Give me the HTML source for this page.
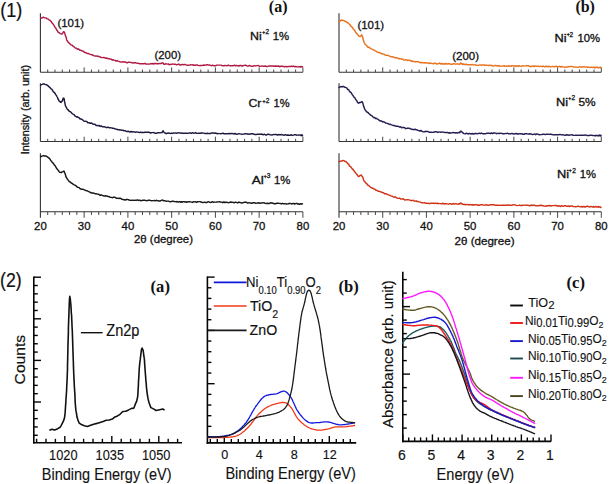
<!DOCTYPE html>
<html><head><meta charset="utf-8"><style>
html,body{margin:0;padding:0;background:#fff;width:609px;height:484px;overflow:hidden}
svg{display:block}
</style></head><body>
<svg width="609" height="484" viewBox="0 0 609 484">
<rect width="609" height="484" fill="#fff"/>
<line x1="40.40" y1="13.30" x2="40.40" y2="72.20" stroke="#333" stroke-width="1.10"/>
<line x1="40.40" y1="72.20" x2="302.90" y2="72.20" stroke="#333" stroke-width="1.10"/>
<line x1="47.69" y1="72.20" x2="47.69" y2="69.50" stroke="#333" stroke-width="0.90"/>
<line x1="54.98" y1="72.20" x2="54.98" y2="69.50" stroke="#333" stroke-width="0.90"/>
<line x1="62.27" y1="72.20" x2="62.27" y2="69.50" stroke="#333" stroke-width="0.90"/>
<line x1="69.57" y1="72.20" x2="69.57" y2="69.50" stroke="#333" stroke-width="0.90"/>
<line x1="76.86" y1="72.20" x2="76.86" y2="69.50" stroke="#333" stroke-width="0.90"/>
<line x1="84.15" y1="72.20" x2="84.15" y2="67.40" stroke="#333" stroke-width="0.90"/>
<line x1="91.44" y1="72.20" x2="91.44" y2="69.50" stroke="#333" stroke-width="0.90"/>
<line x1="98.73" y1="72.20" x2="98.73" y2="69.50" stroke="#333" stroke-width="0.90"/>
<line x1="106.03" y1="72.20" x2="106.03" y2="69.50" stroke="#333" stroke-width="0.90"/>
<line x1="113.32" y1="72.20" x2="113.32" y2="69.50" stroke="#333" stroke-width="0.90"/>
<line x1="120.61" y1="72.20" x2="120.61" y2="69.50" stroke="#333" stroke-width="0.90"/>
<line x1="127.90" y1="72.20" x2="127.90" y2="67.40" stroke="#333" stroke-width="0.90"/>
<line x1="135.19" y1="72.20" x2="135.19" y2="69.50" stroke="#333" stroke-width="0.90"/>
<line x1="142.48" y1="72.20" x2="142.48" y2="69.50" stroke="#333" stroke-width="0.90"/>
<line x1="149.78" y1="72.20" x2="149.78" y2="69.50" stroke="#333" stroke-width="0.90"/>
<line x1="157.07" y1="72.20" x2="157.07" y2="69.50" stroke="#333" stroke-width="0.90"/>
<line x1="164.36" y1="72.20" x2="164.36" y2="69.50" stroke="#333" stroke-width="0.90"/>
<line x1="171.65" y1="72.20" x2="171.65" y2="67.40" stroke="#333" stroke-width="0.90"/>
<line x1="178.94" y1="72.20" x2="178.94" y2="69.50" stroke="#333" stroke-width="0.90"/>
<line x1="186.23" y1="72.20" x2="186.23" y2="69.50" stroke="#333" stroke-width="0.90"/>
<line x1="193.53" y1="72.20" x2="193.53" y2="69.50" stroke="#333" stroke-width="0.90"/>
<line x1="200.82" y1="72.20" x2="200.82" y2="69.50" stroke="#333" stroke-width="0.90"/>
<line x1="208.11" y1="72.20" x2="208.11" y2="69.50" stroke="#333" stroke-width="0.90"/>
<line x1="215.40" y1="72.20" x2="215.40" y2="67.40" stroke="#333" stroke-width="0.90"/>
<line x1="222.69" y1="72.20" x2="222.69" y2="69.50" stroke="#333" stroke-width="0.90"/>
<line x1="229.98" y1="72.20" x2="229.98" y2="69.50" stroke="#333" stroke-width="0.90"/>
<line x1="237.28" y1="72.20" x2="237.28" y2="69.50" stroke="#333" stroke-width="0.90"/>
<line x1="244.57" y1="72.20" x2="244.57" y2="69.50" stroke="#333" stroke-width="0.90"/>
<line x1="251.86" y1="72.20" x2="251.86" y2="69.50" stroke="#333" stroke-width="0.90"/>
<line x1="259.15" y1="72.20" x2="259.15" y2="67.40" stroke="#333" stroke-width="0.90"/>
<line x1="266.44" y1="72.20" x2="266.44" y2="69.50" stroke="#333" stroke-width="0.90"/>
<line x1="273.73" y1="72.20" x2="273.73" y2="69.50" stroke="#333" stroke-width="0.90"/>
<line x1="281.02" y1="72.20" x2="281.02" y2="69.50" stroke="#333" stroke-width="0.90"/>
<line x1="288.32" y1="72.20" x2="288.32" y2="69.50" stroke="#333" stroke-width="0.90"/>
<line x1="295.61" y1="72.20" x2="295.61" y2="69.50" stroke="#333" stroke-width="0.90"/>
<line x1="302.90" y1="72.20" x2="302.90" y2="67.40" stroke="#333" stroke-width="0.90"/>
<line x1="40.40" y1="83.20" x2="40.40" y2="141.50" stroke="#333" stroke-width="1.10"/>
<line x1="40.40" y1="141.50" x2="302.90" y2="141.50" stroke="#333" stroke-width="1.10"/>
<line x1="47.69" y1="141.50" x2="47.69" y2="138.80" stroke="#333" stroke-width="0.90"/>
<line x1="54.98" y1="141.50" x2="54.98" y2="138.80" stroke="#333" stroke-width="0.90"/>
<line x1="62.27" y1="141.50" x2="62.27" y2="138.80" stroke="#333" stroke-width="0.90"/>
<line x1="69.57" y1="141.50" x2="69.57" y2="138.80" stroke="#333" stroke-width="0.90"/>
<line x1="76.86" y1="141.50" x2="76.86" y2="138.80" stroke="#333" stroke-width="0.90"/>
<line x1="84.15" y1="141.50" x2="84.15" y2="136.70" stroke="#333" stroke-width="0.90"/>
<line x1="91.44" y1="141.50" x2="91.44" y2="138.80" stroke="#333" stroke-width="0.90"/>
<line x1="98.73" y1="141.50" x2="98.73" y2="138.80" stroke="#333" stroke-width="0.90"/>
<line x1="106.03" y1="141.50" x2="106.03" y2="138.80" stroke="#333" stroke-width="0.90"/>
<line x1="113.32" y1="141.50" x2="113.32" y2="138.80" stroke="#333" stroke-width="0.90"/>
<line x1="120.61" y1="141.50" x2="120.61" y2="138.80" stroke="#333" stroke-width="0.90"/>
<line x1="127.90" y1="141.50" x2="127.90" y2="136.70" stroke="#333" stroke-width="0.90"/>
<line x1="135.19" y1="141.50" x2="135.19" y2="138.80" stroke="#333" stroke-width="0.90"/>
<line x1="142.48" y1="141.50" x2="142.48" y2="138.80" stroke="#333" stroke-width="0.90"/>
<line x1="149.78" y1="141.50" x2="149.78" y2="138.80" stroke="#333" stroke-width="0.90"/>
<line x1="157.07" y1="141.50" x2="157.07" y2="138.80" stroke="#333" stroke-width="0.90"/>
<line x1="164.36" y1="141.50" x2="164.36" y2="138.80" stroke="#333" stroke-width="0.90"/>
<line x1="171.65" y1="141.50" x2="171.65" y2="136.70" stroke="#333" stroke-width="0.90"/>
<line x1="178.94" y1="141.50" x2="178.94" y2="138.80" stroke="#333" stroke-width="0.90"/>
<line x1="186.23" y1="141.50" x2="186.23" y2="138.80" stroke="#333" stroke-width="0.90"/>
<line x1="193.53" y1="141.50" x2="193.53" y2="138.80" stroke="#333" stroke-width="0.90"/>
<line x1="200.82" y1="141.50" x2="200.82" y2="138.80" stroke="#333" stroke-width="0.90"/>
<line x1="208.11" y1="141.50" x2="208.11" y2="138.80" stroke="#333" stroke-width="0.90"/>
<line x1="215.40" y1="141.50" x2="215.40" y2="136.70" stroke="#333" stroke-width="0.90"/>
<line x1="222.69" y1="141.50" x2="222.69" y2="138.80" stroke="#333" stroke-width="0.90"/>
<line x1="229.98" y1="141.50" x2="229.98" y2="138.80" stroke="#333" stroke-width="0.90"/>
<line x1="237.28" y1="141.50" x2="237.28" y2="138.80" stroke="#333" stroke-width="0.90"/>
<line x1="244.57" y1="141.50" x2="244.57" y2="138.80" stroke="#333" stroke-width="0.90"/>
<line x1="251.86" y1="141.50" x2="251.86" y2="138.80" stroke="#333" stroke-width="0.90"/>
<line x1="259.15" y1="141.50" x2="259.15" y2="136.70" stroke="#333" stroke-width="0.90"/>
<line x1="266.44" y1="141.50" x2="266.44" y2="138.80" stroke="#333" stroke-width="0.90"/>
<line x1="273.73" y1="141.50" x2="273.73" y2="138.80" stroke="#333" stroke-width="0.90"/>
<line x1="281.02" y1="141.50" x2="281.02" y2="138.80" stroke="#333" stroke-width="0.90"/>
<line x1="288.32" y1="141.50" x2="288.32" y2="138.80" stroke="#333" stroke-width="0.90"/>
<line x1="295.61" y1="141.50" x2="295.61" y2="138.80" stroke="#333" stroke-width="0.90"/>
<line x1="302.90" y1="141.50" x2="302.90" y2="136.70" stroke="#333" stroke-width="0.90"/>
<line x1="40.40" y1="153.20" x2="40.40" y2="217.80" stroke="#333" stroke-width="1.10"/>
<line x1="40.40" y1="211.80" x2="302.90" y2="211.80" stroke="#333" stroke-width="1.10"/>
<line x1="47.69" y1="211.80" x2="47.69" y2="215.00" stroke="#333" stroke-width="0.90"/>
<line x1="54.98" y1="211.80" x2="54.98" y2="215.00" stroke="#333" stroke-width="0.90"/>
<line x1="62.27" y1="211.80" x2="62.27" y2="215.00" stroke="#333" stroke-width="0.90"/>
<line x1="69.57" y1="211.80" x2="69.57" y2="215.00" stroke="#333" stroke-width="0.90"/>
<line x1="76.86" y1="211.80" x2="76.86" y2="215.00" stroke="#333" stroke-width="0.90"/>
<line x1="84.15" y1="211.80" x2="84.15" y2="217.80" stroke="#333" stroke-width="0.90"/>
<line x1="91.44" y1="211.80" x2="91.44" y2="215.00" stroke="#333" stroke-width="0.90"/>
<line x1="98.73" y1="211.80" x2="98.73" y2="215.00" stroke="#333" stroke-width="0.90"/>
<line x1="106.03" y1="211.80" x2="106.03" y2="215.00" stroke="#333" stroke-width="0.90"/>
<line x1="113.32" y1="211.80" x2="113.32" y2="215.00" stroke="#333" stroke-width="0.90"/>
<line x1="120.61" y1="211.80" x2="120.61" y2="215.00" stroke="#333" stroke-width="0.90"/>
<line x1="127.90" y1="211.80" x2="127.90" y2="217.80" stroke="#333" stroke-width="0.90"/>
<line x1="135.19" y1="211.80" x2="135.19" y2="215.00" stroke="#333" stroke-width="0.90"/>
<line x1="142.48" y1="211.80" x2="142.48" y2="215.00" stroke="#333" stroke-width="0.90"/>
<line x1="149.78" y1="211.80" x2="149.78" y2="215.00" stroke="#333" stroke-width="0.90"/>
<line x1="157.07" y1="211.80" x2="157.07" y2="215.00" stroke="#333" stroke-width="0.90"/>
<line x1="164.36" y1="211.80" x2="164.36" y2="215.00" stroke="#333" stroke-width="0.90"/>
<line x1="171.65" y1="211.80" x2="171.65" y2="217.80" stroke="#333" stroke-width="0.90"/>
<line x1="178.94" y1="211.80" x2="178.94" y2="215.00" stroke="#333" stroke-width="0.90"/>
<line x1="186.23" y1="211.80" x2="186.23" y2="215.00" stroke="#333" stroke-width="0.90"/>
<line x1="193.53" y1="211.80" x2="193.53" y2="215.00" stroke="#333" stroke-width="0.90"/>
<line x1="200.82" y1="211.80" x2="200.82" y2="215.00" stroke="#333" stroke-width="0.90"/>
<line x1="208.11" y1="211.80" x2="208.11" y2="215.00" stroke="#333" stroke-width="0.90"/>
<line x1="215.40" y1="211.80" x2="215.40" y2="217.80" stroke="#333" stroke-width="0.90"/>
<line x1="222.69" y1="211.80" x2="222.69" y2="215.00" stroke="#333" stroke-width="0.90"/>
<line x1="229.98" y1="211.80" x2="229.98" y2="215.00" stroke="#333" stroke-width="0.90"/>
<line x1="237.28" y1="211.80" x2="237.28" y2="215.00" stroke="#333" stroke-width="0.90"/>
<line x1="244.57" y1="211.80" x2="244.57" y2="215.00" stroke="#333" stroke-width="0.90"/>
<line x1="251.86" y1="211.80" x2="251.86" y2="215.00" stroke="#333" stroke-width="0.90"/>
<line x1="259.15" y1="211.80" x2="259.15" y2="217.80" stroke="#333" stroke-width="0.90"/>
<line x1="266.44" y1="211.80" x2="266.44" y2="215.00" stroke="#333" stroke-width="0.90"/>
<line x1="273.73" y1="211.80" x2="273.73" y2="215.00" stroke="#333" stroke-width="0.90"/>
<line x1="281.02" y1="211.80" x2="281.02" y2="215.00" stroke="#333" stroke-width="0.90"/>
<line x1="288.32" y1="211.80" x2="288.32" y2="215.00" stroke="#333" stroke-width="0.90"/>
<line x1="295.61" y1="211.80" x2="295.61" y2="215.00" stroke="#333" stroke-width="0.90"/>
<line x1="302.90" y1="211.80" x2="302.90" y2="217.80" stroke="#333" stroke-width="0.90"/>
<line x1="339.00" y1="13.30" x2="339.00" y2="72.20" stroke="#333" stroke-width="1.10"/>
<line x1="339.00" y1="72.20" x2="601.30" y2="72.20" stroke="#333" stroke-width="1.10"/>
<line x1="346.29" y1="72.20" x2="346.29" y2="69.50" stroke="#333" stroke-width="0.90"/>
<line x1="353.57" y1="72.20" x2="353.57" y2="69.50" stroke="#333" stroke-width="0.90"/>
<line x1="360.86" y1="72.20" x2="360.86" y2="69.50" stroke="#333" stroke-width="0.90"/>
<line x1="368.14" y1="72.20" x2="368.14" y2="69.50" stroke="#333" stroke-width="0.90"/>
<line x1="375.43" y1="72.20" x2="375.43" y2="69.50" stroke="#333" stroke-width="0.90"/>
<line x1="382.72" y1="72.20" x2="382.72" y2="67.40" stroke="#333" stroke-width="0.90"/>
<line x1="390.00" y1="72.20" x2="390.00" y2="69.50" stroke="#333" stroke-width="0.90"/>
<line x1="397.29" y1="72.20" x2="397.29" y2="69.50" stroke="#333" stroke-width="0.90"/>
<line x1="404.57" y1="72.20" x2="404.57" y2="69.50" stroke="#333" stroke-width="0.90"/>
<line x1="411.86" y1="72.20" x2="411.86" y2="69.50" stroke="#333" stroke-width="0.90"/>
<line x1="419.15" y1="72.20" x2="419.15" y2="69.50" stroke="#333" stroke-width="0.90"/>
<line x1="426.43" y1="72.20" x2="426.43" y2="67.40" stroke="#333" stroke-width="0.90"/>
<line x1="433.72" y1="72.20" x2="433.72" y2="69.50" stroke="#333" stroke-width="0.90"/>
<line x1="441.01" y1="72.20" x2="441.01" y2="69.50" stroke="#333" stroke-width="0.90"/>
<line x1="448.29" y1="72.20" x2="448.29" y2="69.50" stroke="#333" stroke-width="0.90"/>
<line x1="455.58" y1="72.20" x2="455.58" y2="69.50" stroke="#333" stroke-width="0.90"/>
<line x1="462.86" y1="72.20" x2="462.86" y2="69.50" stroke="#333" stroke-width="0.90"/>
<line x1="470.15" y1="72.20" x2="470.15" y2="67.40" stroke="#333" stroke-width="0.90"/>
<line x1="477.44" y1="72.20" x2="477.44" y2="69.50" stroke="#333" stroke-width="0.90"/>
<line x1="484.72" y1="72.20" x2="484.72" y2="69.50" stroke="#333" stroke-width="0.90"/>
<line x1="492.01" y1="72.20" x2="492.01" y2="69.50" stroke="#333" stroke-width="0.90"/>
<line x1="499.29" y1="72.20" x2="499.29" y2="69.50" stroke="#333" stroke-width="0.90"/>
<line x1="506.58" y1="72.20" x2="506.58" y2="69.50" stroke="#333" stroke-width="0.90"/>
<line x1="513.87" y1="72.20" x2="513.87" y2="67.40" stroke="#333" stroke-width="0.90"/>
<line x1="521.15" y1="72.20" x2="521.15" y2="69.50" stroke="#333" stroke-width="0.90"/>
<line x1="528.44" y1="72.20" x2="528.44" y2="69.50" stroke="#333" stroke-width="0.90"/>
<line x1="535.72" y1="72.20" x2="535.72" y2="69.50" stroke="#333" stroke-width="0.90"/>
<line x1="543.01" y1="72.20" x2="543.01" y2="69.50" stroke="#333" stroke-width="0.90"/>
<line x1="550.30" y1="72.20" x2="550.30" y2="69.50" stroke="#333" stroke-width="0.90"/>
<line x1="557.58" y1="72.20" x2="557.58" y2="67.40" stroke="#333" stroke-width="0.90"/>
<line x1="564.87" y1="72.20" x2="564.87" y2="69.50" stroke="#333" stroke-width="0.90"/>
<line x1="572.16" y1="72.20" x2="572.16" y2="69.50" stroke="#333" stroke-width="0.90"/>
<line x1="579.44" y1="72.20" x2="579.44" y2="69.50" stroke="#333" stroke-width="0.90"/>
<line x1="586.73" y1="72.20" x2="586.73" y2="69.50" stroke="#333" stroke-width="0.90"/>
<line x1="594.01" y1="72.20" x2="594.01" y2="69.50" stroke="#333" stroke-width="0.90"/>
<line x1="601.30" y1="72.20" x2="601.30" y2="67.40" stroke="#333" stroke-width="0.90"/>
<line x1="339.00" y1="83.20" x2="339.00" y2="141.50" stroke="#333" stroke-width="1.10"/>
<line x1="339.00" y1="141.50" x2="601.30" y2="141.50" stroke="#333" stroke-width="1.10"/>
<line x1="346.29" y1="141.50" x2="346.29" y2="138.80" stroke="#333" stroke-width="0.90"/>
<line x1="353.57" y1="141.50" x2="353.57" y2="138.80" stroke="#333" stroke-width="0.90"/>
<line x1="360.86" y1="141.50" x2="360.86" y2="138.80" stroke="#333" stroke-width="0.90"/>
<line x1="368.14" y1="141.50" x2="368.14" y2="138.80" stroke="#333" stroke-width="0.90"/>
<line x1="375.43" y1="141.50" x2="375.43" y2="138.80" stroke="#333" stroke-width="0.90"/>
<line x1="382.72" y1="141.50" x2="382.72" y2="136.70" stroke="#333" stroke-width="0.90"/>
<line x1="390.00" y1="141.50" x2="390.00" y2="138.80" stroke="#333" stroke-width="0.90"/>
<line x1="397.29" y1="141.50" x2="397.29" y2="138.80" stroke="#333" stroke-width="0.90"/>
<line x1="404.57" y1="141.50" x2="404.57" y2="138.80" stroke="#333" stroke-width="0.90"/>
<line x1="411.86" y1="141.50" x2="411.86" y2="138.80" stroke="#333" stroke-width="0.90"/>
<line x1="419.15" y1="141.50" x2="419.15" y2="138.80" stroke="#333" stroke-width="0.90"/>
<line x1="426.43" y1="141.50" x2="426.43" y2="136.70" stroke="#333" stroke-width="0.90"/>
<line x1="433.72" y1="141.50" x2="433.72" y2="138.80" stroke="#333" stroke-width="0.90"/>
<line x1="441.01" y1="141.50" x2="441.01" y2="138.80" stroke="#333" stroke-width="0.90"/>
<line x1="448.29" y1="141.50" x2="448.29" y2="138.80" stroke="#333" stroke-width="0.90"/>
<line x1="455.58" y1="141.50" x2="455.58" y2="138.80" stroke="#333" stroke-width="0.90"/>
<line x1="462.86" y1="141.50" x2="462.86" y2="138.80" stroke="#333" stroke-width="0.90"/>
<line x1="470.15" y1="141.50" x2="470.15" y2="136.70" stroke="#333" stroke-width="0.90"/>
<line x1="477.44" y1="141.50" x2="477.44" y2="138.80" stroke="#333" stroke-width="0.90"/>
<line x1="484.72" y1="141.50" x2="484.72" y2="138.80" stroke="#333" stroke-width="0.90"/>
<line x1="492.01" y1="141.50" x2="492.01" y2="138.80" stroke="#333" stroke-width="0.90"/>
<line x1="499.29" y1="141.50" x2="499.29" y2="138.80" stroke="#333" stroke-width="0.90"/>
<line x1="506.58" y1="141.50" x2="506.58" y2="138.80" stroke="#333" stroke-width="0.90"/>
<line x1="513.87" y1="141.50" x2="513.87" y2="136.70" stroke="#333" stroke-width="0.90"/>
<line x1="521.15" y1="141.50" x2="521.15" y2="138.80" stroke="#333" stroke-width="0.90"/>
<line x1="528.44" y1="141.50" x2="528.44" y2="138.80" stroke="#333" stroke-width="0.90"/>
<line x1="535.72" y1="141.50" x2="535.72" y2="138.80" stroke="#333" stroke-width="0.90"/>
<line x1="543.01" y1="141.50" x2="543.01" y2="138.80" stroke="#333" stroke-width="0.90"/>
<line x1="550.30" y1="141.50" x2="550.30" y2="138.80" stroke="#333" stroke-width="0.90"/>
<line x1="557.58" y1="141.50" x2="557.58" y2="136.70" stroke="#333" stroke-width="0.90"/>
<line x1="564.87" y1="141.50" x2="564.87" y2="138.80" stroke="#333" stroke-width="0.90"/>
<line x1="572.16" y1="141.50" x2="572.16" y2="138.80" stroke="#333" stroke-width="0.90"/>
<line x1="579.44" y1="141.50" x2="579.44" y2="138.80" stroke="#333" stroke-width="0.90"/>
<line x1="586.73" y1="141.50" x2="586.73" y2="138.80" stroke="#333" stroke-width="0.90"/>
<line x1="594.01" y1="141.50" x2="594.01" y2="138.80" stroke="#333" stroke-width="0.90"/>
<line x1="601.30" y1="141.50" x2="601.30" y2="136.70" stroke="#333" stroke-width="0.90"/>
<line x1="339.00" y1="153.20" x2="339.00" y2="217.80" stroke="#333" stroke-width="1.10"/>
<line x1="339.00" y1="211.80" x2="601.30" y2="211.80" stroke="#333" stroke-width="1.10"/>
<line x1="346.29" y1="211.80" x2="346.29" y2="215.00" stroke="#333" stroke-width="0.90"/>
<line x1="353.57" y1="211.80" x2="353.57" y2="215.00" stroke="#333" stroke-width="0.90"/>
<line x1="360.86" y1="211.80" x2="360.86" y2="215.00" stroke="#333" stroke-width="0.90"/>
<line x1="368.14" y1="211.80" x2="368.14" y2="215.00" stroke="#333" stroke-width="0.90"/>
<line x1="375.43" y1="211.80" x2="375.43" y2="215.00" stroke="#333" stroke-width="0.90"/>
<line x1="382.72" y1="211.80" x2="382.72" y2="217.80" stroke="#333" stroke-width="0.90"/>
<line x1="390.00" y1="211.80" x2="390.00" y2="215.00" stroke="#333" stroke-width="0.90"/>
<line x1="397.29" y1="211.80" x2="397.29" y2="215.00" stroke="#333" stroke-width="0.90"/>
<line x1="404.57" y1="211.80" x2="404.57" y2="215.00" stroke="#333" stroke-width="0.90"/>
<line x1="411.86" y1="211.80" x2="411.86" y2="215.00" stroke="#333" stroke-width="0.90"/>
<line x1="419.15" y1="211.80" x2="419.15" y2="215.00" stroke="#333" stroke-width="0.90"/>
<line x1="426.43" y1="211.80" x2="426.43" y2="217.80" stroke="#333" stroke-width="0.90"/>
<line x1="433.72" y1="211.80" x2="433.72" y2="215.00" stroke="#333" stroke-width="0.90"/>
<line x1="441.01" y1="211.80" x2="441.01" y2="215.00" stroke="#333" stroke-width="0.90"/>
<line x1="448.29" y1="211.80" x2="448.29" y2="215.00" stroke="#333" stroke-width="0.90"/>
<line x1="455.58" y1="211.80" x2="455.58" y2="215.00" stroke="#333" stroke-width="0.90"/>
<line x1="462.86" y1="211.80" x2="462.86" y2="215.00" stroke="#333" stroke-width="0.90"/>
<line x1="470.15" y1="211.80" x2="470.15" y2="217.80" stroke="#333" stroke-width="0.90"/>
<line x1="477.44" y1="211.80" x2="477.44" y2="215.00" stroke="#333" stroke-width="0.90"/>
<line x1="484.72" y1="211.80" x2="484.72" y2="215.00" stroke="#333" stroke-width="0.90"/>
<line x1="492.01" y1="211.80" x2="492.01" y2="215.00" stroke="#333" stroke-width="0.90"/>
<line x1="499.29" y1="211.80" x2="499.29" y2="215.00" stroke="#333" stroke-width="0.90"/>
<line x1="506.58" y1="211.80" x2="506.58" y2="215.00" stroke="#333" stroke-width="0.90"/>
<line x1="513.87" y1="211.80" x2="513.87" y2="217.80" stroke="#333" stroke-width="0.90"/>
<line x1="521.15" y1="211.80" x2="521.15" y2="215.00" stroke="#333" stroke-width="0.90"/>
<line x1="528.44" y1="211.80" x2="528.44" y2="215.00" stroke="#333" stroke-width="0.90"/>
<line x1="535.72" y1="211.80" x2="535.72" y2="215.00" stroke="#333" stroke-width="0.90"/>
<line x1="543.01" y1="211.80" x2="543.01" y2="215.00" stroke="#333" stroke-width="0.90"/>
<line x1="550.30" y1="211.80" x2="550.30" y2="215.00" stroke="#333" stroke-width="0.90"/>
<line x1="557.58" y1="211.80" x2="557.58" y2="217.80" stroke="#333" stroke-width="0.90"/>
<line x1="564.87" y1="211.80" x2="564.87" y2="215.00" stroke="#333" stroke-width="0.90"/>
<line x1="572.16" y1="211.80" x2="572.16" y2="215.00" stroke="#333" stroke-width="0.90"/>
<line x1="579.44" y1="211.80" x2="579.44" y2="215.00" stroke="#333" stroke-width="0.90"/>
<line x1="586.73" y1="211.80" x2="586.73" y2="215.00" stroke="#333" stroke-width="0.90"/>
<line x1="594.01" y1="211.80" x2="594.01" y2="215.00" stroke="#333" stroke-width="0.90"/>
<line x1="601.30" y1="211.80" x2="601.30" y2="217.80" stroke="#333" stroke-width="0.90"/>
<text x="40.4" y="229.6" font-size="11.40" text-anchor="middle" fill="#111" font-family='"Liberation Sans", sans-serif' font-weight="normal" stroke="#111" stroke-width="0.30" >20</text>
<text x="339.0" y="229.6" font-size="11.40" text-anchor="middle" fill="#111" font-family='"Liberation Sans", sans-serif' font-weight="normal" stroke="#111" stroke-width="0.30" >20</text>
<text x="84.2" y="229.6" font-size="11.40" text-anchor="middle" fill="#111" font-family='"Liberation Sans", sans-serif' font-weight="normal" stroke="#111" stroke-width="0.30" >30</text>
<text x="382.7" y="229.6" font-size="11.40" text-anchor="middle" fill="#111" font-family='"Liberation Sans", sans-serif' font-weight="normal" stroke="#111" stroke-width="0.30" >30</text>
<text x="127.9" y="229.6" font-size="11.40" text-anchor="middle" fill="#111" font-family='"Liberation Sans", sans-serif' font-weight="normal" stroke="#111" stroke-width="0.30" >40</text>
<text x="426.4" y="229.6" font-size="11.40" text-anchor="middle" fill="#111" font-family='"Liberation Sans", sans-serif' font-weight="normal" stroke="#111" stroke-width="0.30" >40</text>
<text x="171.7" y="229.6" font-size="11.40" text-anchor="middle" fill="#111" font-family='"Liberation Sans", sans-serif' font-weight="normal" stroke="#111" stroke-width="0.30" >50</text>
<text x="470.1" y="229.6" font-size="11.40" text-anchor="middle" fill="#111" font-family='"Liberation Sans", sans-serif' font-weight="normal" stroke="#111" stroke-width="0.30" >50</text>
<text x="215.4" y="229.6" font-size="11.40" text-anchor="middle" fill="#111" font-family='"Liberation Sans", sans-serif' font-weight="normal" stroke="#111" stroke-width="0.30" >60</text>
<text x="513.9" y="229.6" font-size="11.40" text-anchor="middle" fill="#111" font-family='"Liberation Sans", sans-serif' font-weight="normal" stroke="#111" stroke-width="0.30" >60</text>
<text x="259.1" y="229.6" font-size="11.40" text-anchor="middle" fill="#111" font-family='"Liberation Sans", sans-serif' font-weight="normal" stroke="#111" stroke-width="0.30" >70</text>
<text x="557.6" y="229.6" font-size="11.40" text-anchor="middle" fill="#111" font-family='"Liberation Sans", sans-serif' font-weight="normal" stroke="#111" stroke-width="0.30" >70</text>
<text x="302.9" y="229.6" font-size="11.40" text-anchor="middle" fill="#111" font-family='"Liberation Sans", sans-serif' font-weight="normal" stroke="#111" stroke-width="0.30" >80</text>
<text x="601.3" y="229.6" font-size="11.40" text-anchor="middle" fill="#111" font-family='"Liberation Sans", sans-serif' font-weight="normal" stroke="#111" stroke-width="0.30" >80</text>
<text x="134.0" y="243.3" font-size="11.00" text-anchor="start" fill="#111" font-family='"Liberation Sans", sans-serif' font-weight="normal" textLength="59.0" lengthAdjust="spacingAndGlyphs" stroke="#111" stroke-width="0.30" >2θ (degree)</text>
<text x="454.5" y="245.0" font-size="11.00" text-anchor="start" fill="#111" font-family='"Liberation Sans", sans-serif' font-weight="normal" textLength="60.0" lengthAdjust="spacingAndGlyphs" stroke="#111" stroke-width="0.30" >2θ (degree)</text>
<text transform="translate(29.2,154.3) rotate(-90)" font-size="11.3" font-family='"Liberation Sans", sans-serif' fill="#111" stroke="#111" stroke-width="0.3" textLength="89.4" lengthAdjust="spacingAndGlyphs">Intensity (arb. unit)</text>
<path d="M40.4,18.3 L40.9,17.9 L42.1,18.0 L43.3,17.2 L44.2,17.7 L45.2,17.9 L46.2,18.0 L47.2,18.9 L48.2,19.1 L49.2,20.1 L50.2,20.5 L51.1,21.4 L51.8,22.5 L52.5,23.7 L53.2,24.0 L53.8,25.0 L54.5,26.3 L55.1,27.5 L55.7,28.0 L56.2,28.8 L56.8,30.3 L57.3,30.4 L57.9,32.0 L58.4,32.2 L59.0,32.7 L60.3,33.6 L61.6,34.1 L62.4,33.8 L63.2,32.0 L63.9,31.8 L64.4,32.4 L64.8,33.3 L65.2,35.0 L65.6,35.9 L66.0,36.9 L66.3,38.2 L66.6,39.7 L67.0,40.5 L67.6,41.3 L68.2,42.3 L68.9,42.9 L69.7,43.5 L70.5,44.5 L71.4,45.1 L72.2,45.3 L73.0,46.2 L73.9,46.7 L74.7,47.6 L75.6,48.0 L76.5,48.1 L77.4,49.2 L78.3,48.9 L79.2,49.6 L80.2,50.4 L81.1,50.3 L82.1,51.0 L83.0,51.0 L84.0,52.0 L85.1,52.5 L86.2,52.8 L87.2,53.5 L88.3,53.4 L89.4,54.1 L90.5,54.4 L91.6,54.7 L92.7,55.0 L93.8,55.6 L94.9,56.0 L96.0,55.9 L97.1,56.3 L98.2,56.1 L99.3,56.9 L100.4,57.0 L101.5,57.6 L102.6,57.6 L103.7,57.4 L104.8,57.8 L105.9,58.3 L106.9,58.0 L108.0,58.7 L109.1,58.7 L110.2,59.0 L111.1,59.1 L112.1,60.0 L113.1,59.7 L114.0,60.1 L115.0,60.4 L116.0,61.1 L117.0,60.6 L118.0,61.2 L119.0,61.4 L120.0,61.9 L121.0,62.0 L122.0,62.1 L123.0,61.7 L124.1,62.0 L125.2,62.0 L126.4,62.6 L127.3,62.8 L128.2,62.2 L129.1,62.3 L130.1,62.4 L131.1,62.5 L132.2,62.8 L133.2,63.0 L134.3,62.8 L135.4,62.7 L136.5,63.1 L137.5,63.2 L138.6,63.4 L139.7,63.8 L140.7,63.7 L141.8,63.6 L142.8,63.7 L143.9,63.8 L144.9,63.3 L146.0,64.1 L147.2,64.0 L148.3,64.1 L149.4,64.1 L150.6,63.8 L151.6,63.8 L152.7,63.5 L153.7,64.0 L154.7,63.5 L155.7,63.5 L156.5,63.7 L157.3,63.6 L158.0,63.8 L159.4,63.5 L160.6,63.4 L161.5,63.4 L162.1,62.9 L162.6,62.9 L163.2,63.0 L163.8,64.2 L164.7,64.2 L166.0,63.8 L166.5,63.9 L167.0,64.0 L167.7,64.1 L168.3,63.9 L169.1,64.6 L169.9,64.7 L170.7,64.3 L171.6,64.4 L172.6,64.0 L173.5,64.1 L174.6,64.3 L175.6,64.3 L176.7,64.8 L177.8,64.3 L178.9,64.2 L180.1,65.1 L181.3,64.7 L182.5,64.4 L183.7,64.8 L184.9,64.4 L186.1,64.9 L187.3,65.3 L188.5,65.2 L189.7,65.1 L190.8,64.8 L192.0,64.9 L192.8,64.7 L193.7,65.3 L194.6,65.1 L195.5,65.3 L196.3,64.9 L197.2,64.9 L198.1,65.4 L199.1,65.6 L200.0,65.5 L200.9,65.4 L201.9,65.5 L202.8,65.4 L203.8,65.0 L204.7,65.2 L205.7,65.1 L206.7,64.8 L207.6,64.8 L208.6,65.1 L209.6,65.0 L210.6,65.4 L211.6,65.7 L212.6,65.2 L213.7,65.7 L214.7,65.8 L215.7,65.7 L216.7,65.2 L217.8,65.1 L218.8,65.1 L219.8,65.1 L220.9,65.1 L221.9,65.5 L223.0,65.7 L224.0,65.7 L225.1,65.4 L226.1,65.6 L227.2,65.7 L228.3,65.1 L229.3,65.6 L230.4,65.8 L231.4,65.7 L232.5,65.7 L233.6,65.5 L234.6,65.2 L235.7,65.8 L236.8,65.4 L237.8,65.8 L238.9,66.0 L239.9,65.5 L241.0,65.5 L242.0,66.0 L243.0,65.8 L244.0,65.4 L245.1,65.3 L246.2,65.4 L247.3,66.1 L248.5,66.0 L249.6,65.4 L250.8,66.1 L252.1,66.2 L253.3,66.0 L254.6,65.7 L255.8,65.9 L257.1,65.6 L258.4,65.5 L259.8,66.4 L261.1,66.1 L262.4,66.0 L263.7,66.4 L265.1,66.0 L266.4,66.4 L267.8,66.4 L269.1,65.9 L270.5,65.9 L271.8,66.0 L273.1,66.0 L274.5,66.3 L275.8,66.0 L277.1,66.2 L278.4,66.0 L279.6,66.7 L280.9,66.2 L282.1,66.3 L283.4,66.5 L284.6,66.8 L285.7,66.4 L286.9,66.9 L288.0,66.5 L289.1,66.5 L290.2,66.6 L291.2,66.1 L292.2,66.5 L293.2,66.3 L294.1,66.2 L295.0,66.9 L295.8,66.4 L296.6,66.7 L297.4,66.9 L298.1,66.8 L298.8,66.6 L299.4,66.8 L300.0,66.8 L300.5,67.0 L300.9,66.4 L301.3,66.8 L301.7,66.6 L302.0,66.6 L302.2,67.0 L302.4,66.8 L302.5,66.9 L302.5,67.0" fill="none" stroke="#b01a44" stroke-width="1.45" stroke-linejoin="round"/>
<path d="M40.4,85.6 L40.9,84.8 L42.1,84.4 L43.3,83.9 L44.2,84.0 L45.2,84.4 L46.2,84.7 L47.2,85.2 L48.0,85.7 L48.8,86.7 L49.6,87.2 L50.4,88.1 L51.1,88.9 L51.8,89.1 L52.4,90.1 L53.1,91.4 L53.7,92.2 L54.4,92.5 L55.1,93.5 L55.7,94.6 L56.3,95.3 L56.9,96.5 L57.5,97.5 L58.1,99.2 L58.8,100.3 L59.4,101.3 L60.0,101.4 L60.5,102.3 L61.0,102.4 L61.6,101.5 L62.2,101.1 L62.7,99.9 L63.2,98.1 L63.6,98.4 L63.9,98.2 L64.2,99.0 L64.4,100.6 L64.6,101.7 L64.8,102.4 L65.1,104.0 L65.3,105.3 L65.6,106.1 L66.2,107.1 L66.8,108.3 L67.6,109.7 L68.2,109.7 L68.8,110.8 L69.6,111.4 L70.4,111.7 L71.2,112.6 L72.1,113.6 L73.0,114.1 L73.9,114.4 L74.8,115.8 L75.6,116.2 L76.5,117.0 L77.4,116.7 L78.3,117.4 L79.2,117.8 L80.1,119.0 L81.0,119.0 L82.0,119.4 L83.0,120.2 L84.0,121.1 L84.9,121.4 L85.9,121.3 L86.8,121.6 L87.8,122.7 L88.8,122.7 L89.8,123.2 L90.9,123.0 L91.9,123.3 L93.0,124.2 L94.0,124.3 L95.0,124.3 L96.1,125.4 L97.1,125.4 L98.1,125.8 L99.1,125.4 L100.2,126.4 L101.2,125.9 L102.3,126.8 L103.3,126.7 L104.4,126.8 L105.4,127.1 L106.4,127.7 L107.4,127.3 L108.4,127.3 L109.3,127.8 L110.2,127.8 L111.4,127.9 L112.6,128.2 L113.7,128.3 L114.7,128.7 L115.8,129.0 L116.9,129.2 L118.0,129.8 L119.0,129.6 L120.0,130.0 L121.0,130.0 L122.0,130.4 L123.0,130.3 L124.1,130.7 L125.2,130.7 L126.4,131.5 L127.3,131.5 L128.2,131.2 L129.1,131.6 L130.1,132.1 L131.1,131.4 L132.1,132.1 L133.2,131.8 L134.3,131.9 L135.3,132.3 L136.4,131.9 L137.5,132.1 L138.6,132.3 L139.7,132.6 L140.7,132.1 L141.8,132.5 L142.8,132.5 L143.8,132.5 L144.9,132.3 L146.0,132.3 L147.2,132.1 L148.3,132.3 L149.4,132.3 L150.6,133.0 L151.7,132.6 L152.8,132.6 L153.9,132.5 L154.9,133.3 L155.9,133.3 L156.8,133.2 L157.6,132.8 L158.3,132.8 L159.0,132.8 L160.2,132.9 L161.2,132.6 L162.0,132.6 L162.7,131.1 L163.2,130.8 L163.7,131.8 L164.4,132.8 L165.2,132.9 L166.2,133.7 L167.5,133.1 L168.1,133.2 L168.7,132.9 L169.4,133.3 L170.1,133.4 L170.9,133.4 L171.7,133.1 L172.7,133.4 L173.6,132.9 L174.6,133.1 L175.6,133.0 L176.7,133.2 L177.7,132.9 L178.9,132.8 L180.0,133.1 L181.1,133.0 L182.3,133.3 L183.5,133.2 L184.6,133.3 L185.8,133.2 L187.0,133.3 L188.1,133.4 L189.3,132.9 L190.4,132.9 L191.5,133.4 L192.6,132.7 L193.7,133.2 L194.7,133.1 L195.6,132.6 L196.6,133.3 L197.6,133.4 L198.6,133.2 L199.6,133.3 L200.6,133.3 L201.6,132.8 L202.6,133.1 L203.6,133.1 L204.6,133.4 L205.6,133.4 L206.6,133.5 L207.6,133.3 L208.6,133.6 L209.6,133.4 L210.7,133.4 L211.7,133.0 L212.7,132.9 L213.7,133.0 L214.8,133.2 L215.8,133.0 L216.8,133.7 L217.8,133.5 L218.9,133.6 L219.9,133.6 L220.9,133.7 L221.9,133.5 L223.0,133.1 L224.0,133.8 L225.0,133.8 L226.0,133.6 L227.0,133.7 L228.0,133.8 L229.0,133.3 L230.0,133.9 L231.0,133.5 L232.0,133.4 L233.0,133.6 L234.0,134.0 L235.0,133.5 L236.0,134.0 L237.0,134.3 L238.0,133.9 L239.0,133.8 L240.0,133.9 L241.0,134.1 L242.0,134.2 L243.1,134.1 L244.1,134.1 L245.1,133.6 L246.1,133.7 L247.2,133.8 L248.2,134.3 L249.2,133.9 L250.3,134.2 L251.3,133.7 L252.4,133.8 L253.5,134.0 L254.5,134.4 L255.6,134.4 L256.7,134.4 L257.8,134.1 L258.8,134.3 L259.8,134.3 L260.8,134.3 L261.9,134.0 L263.1,134.8 L264.3,134.2 L265.5,134.9 L266.7,134.9 L268.0,134.1 L269.3,134.5 L270.6,134.9 L271.9,135.0 L273.2,134.6 L274.6,134.5 L276.0,134.4 L277.3,135.1 L278.7,134.5 L280.0,134.9 L281.4,134.5 L282.7,134.9 L284.0,135.3 L285.3,134.6 L286.6,135.2 L287.8,135.0 L289.1,135.3 L290.3,135.2 L291.4,134.8 L292.5,135.4 L293.6,135.1 L294.6,134.7 L295.6,134.7 L296.6,135.2 L297.4,135.1 L298.3,135.0 L299.0,134.9 L299.7,135.1 L300.3,135.1 L300.9,135.6 L301.4,134.8 L301.8,135.5 L302.1,135.6 L302.3,135.0 L302.5,135.7 L302.5,135.5" fill="none" stroke="#1c1a3e" stroke-width="1.45" stroke-linejoin="round"/>
<path d="M40.4,157.3 L40.9,156.5 L42.0,156.1 L43.4,155.6 L44.6,156.0 L45.6,156.0 L46.6,156.3 L47.6,157.1 L48.5,157.7 L49.3,158.3 L50.1,159.2 L50.9,160.8 L51.6,161.2 L52.4,162.8 L53.1,163.0 L53.7,163.9 L54.4,165.1 L55.1,165.7 L55.7,166.7 L56.4,168.1 L57.1,168.9 L57.7,169.8 L58.4,170.5 L59.1,171.6 L59.7,172.3 L60.3,172.3 L61.1,172.7 L61.9,171.9 L62.9,171.7 L63.9,171.0 L64.4,171.9 L64.8,173.0 L65.2,174.1 L65.6,175.2 L66.0,177.0 L66.4,177.2 L66.9,178.5 L67.6,179.4 L68.2,180.0 L68.8,181.0 L69.6,181.9 L70.4,182.0 L71.2,183.0 L72.1,183.4 L73.0,184.2 L73.9,184.7 L74.8,185.1 L75.6,185.6 L76.5,186.2 L77.4,187.3 L78.3,187.4 L79.2,187.6 L80.1,188.7 L81.0,189.2 L82.0,189.1 L83.0,189.3 L84.0,189.7 L84.9,190.0 L85.9,190.6 L86.8,190.7 L87.8,191.2 L88.8,191.6 L89.9,192.2 L90.9,192.8 L91.9,193.0 L93.0,193.0 L94.0,193.3 L95.0,193.7 L96.1,193.8 L97.1,194.1 L98.1,194.1 L99.1,194.5 L100.2,195.4 L101.2,194.8 L102.3,195.4 L103.3,195.7 L104.4,196.1 L105.4,195.8 L106.4,196.0 L107.4,196.2 L108.4,196.5 L109.3,196.7 L110.2,197.3 L111.4,197.4 L112.6,197.7 L113.7,197.1 L114.7,197.2 L115.8,198.0 L116.9,198.4 L118.0,198.2 L119.0,198.5 L120.0,198.1 L121.0,198.7 L122.0,199.4 L123.0,199.5 L124.1,199.7 L125.2,200.0 L126.4,199.5 L127.3,199.4 L128.2,199.6 L129.1,200.0 L130.1,200.2 L131.1,200.4 L132.1,200.3 L133.2,200.3 L134.2,200.4 L135.3,200.2 L136.4,200.3 L137.5,199.9 L138.5,200.5 L139.6,200.1 L140.7,200.7 L141.8,200.5 L142.8,200.2 L143.8,200.1 L144.9,200.2 L146.0,200.6 L147.2,200.7 L148.4,200.2 L149.6,200.2 L150.8,200.6 L151.9,200.7 L153.1,200.6 L154.2,200.5 L155.3,200.8 L156.3,200.3 L157.2,200.6 L158.1,200.7 L158.8,201.1 L159.5,200.9 L160.0,201.0 L160.9,200.6 L161.6,200.3 L162.1,199.9 L162.6,200.2 L163.1,200.5 L163.7,200.7 L164.7,200.6 L166.0,201.1 L166.7,201.3 L167.6,201.1 L168.5,201.1 L169.4,201.5 L170.5,201.8 L171.7,201.3 L172.9,201.2 L174.3,201.5 L175.7,201.6 L176.3,201.9 L177.0,201.5 L177.7,202.0 L178.4,202.0 L179.1,201.8 L179.9,201.6 L180.7,202.3 L181.5,201.7 L182.3,202.2 L183.1,201.6 L184.0,201.6 L184.9,202.1 L185.8,201.7 L186.7,202.3 L187.6,201.9 L188.6,201.7 L189.6,201.7 L190.5,201.9 L191.5,202.1 L192.6,202.4 L193.6,201.7 L194.6,201.9 L195.7,201.8 L196.7,202.4 L197.8,201.7 L198.9,201.6 L200.0,201.6 L201.1,202.0 L202.2,202.4 L203.3,202.4 L204.5,202.3 L205.6,202.5 L206.7,202.5 L207.9,201.9 L209.0,201.8 L210.1,202.5 L211.3,202.4 L212.4,201.7 L213.6,202.3 L214.7,202.1 L215.9,202.1 L217.0,202.0 L218.2,201.9 L219.3,201.8 L220.5,202.0 L221.6,202.1 L222.7,202.7 L223.9,201.9 L225.0,202.7 L225.9,202.1 L226.8,202.2 L227.8,202.6 L228.8,202.7 L229.8,202.3 L230.9,202.0 L232.0,202.4 L233.1,202.3 L234.2,202.8 L235.3,202.2 L236.5,202.4 L237.7,202.9 L238.9,202.1 L240.1,202.5 L241.4,202.9 L242.6,202.9 L243.9,202.3 L245.2,202.3 L246.5,202.3 L247.8,203.1 L249.1,202.6 L250.4,203.0 L251.7,203.2 L253.0,202.7 L254.4,202.7 L255.7,203.3 L257.1,203.1 L258.4,202.8 L259.8,203.2 L261.1,202.9 L262.5,202.9 L263.8,202.7 L265.1,203.4 L266.5,203.5 L267.8,203.3 L269.1,203.6 L270.4,202.8 L271.7,203.0 L273.0,203.3 L274.3,203.8 L275.5,203.8 L276.8,203.3 L278.0,203.2 L279.2,203.4 L280.4,203.5 L281.6,203.9 L282.7,203.3 L283.9,203.8 L285.0,203.8 L286.1,203.9 L287.2,203.9 L288.2,203.8 L289.2,203.5 L290.2,203.5 L291.1,203.6 L292.1,204.0 L293.0,203.4 L293.8,203.5 L294.7,204.0 L295.4,203.6 L296.2,203.5 L296.9,203.4 L297.6,203.9 L298.2,203.7 L298.8,204.3 L299.4,204.3 L299.9,204.4 L300.4,203.7 L300.8,203.6 L301.2,203.6 L301.5,204.0 L301.8,204.2 L302.1,203.9 L302.3,203.8 L302.4,203.9 L302.5,204.1 L302.5,204.2" fill="none" stroke="#181818" stroke-width="1.45" stroke-linejoin="round"/>
<path d="M338.6,22.0 L339.1,21.7 L340.3,20.8 L341.6,19.9 L342.7,20.6 L343.9,20.5 L345.1,21.3 L346.2,21.7 L347.0,22.6 L347.8,22.7 L348.6,23.4 L349.3,24.1 L350.1,24.8 L350.8,26.1 L351.5,26.6 L352.1,27.1 L352.8,28.0 L353.5,29.3 L354.1,29.7 L354.8,30.4 L355.4,31.9 L356.1,32.7 L356.8,33.9 L357.4,34.0 L358.0,35.0 L359.0,36.2 L360.0,36.6 L360.8,36.1 L361.6,34.8 L362.1,35.6 L362.5,36.6 L362.9,38.0 L363.3,40.0 L363.7,40.8 L364.1,42.3 L364.5,43.0 L365.2,44.5 L365.8,44.9 L366.6,45.4 L367.4,46.6 L368.3,47.4 L369.3,47.2 L370.2,48.3 L371.2,48.9 L372.1,49.1 L373.0,49.8 L374.0,50.1 L374.9,50.6 L375.9,51.1 L376.9,51.9 L377.9,52.4 L379.0,52.4 L379.9,52.6 L380.8,53.2 L381.7,53.9 L382.6,53.8 L383.6,54.2 L384.5,54.4 L385.5,55.3 L386.5,55.4 L387.5,55.2 L388.5,55.6 L389.5,56.1 L390.5,56.5 L391.4,56.9 L392.4,56.6 L393.4,56.9 L394.4,57.7 L395.4,57.6 L396.5,57.8 L397.5,58.0 L398.5,58.8 L399.6,58.5 L400.6,58.9 L401.7,59.0 L402.7,59.2 L403.7,59.8 L404.7,60.2 L405.8,59.8 L406.8,59.9 L407.9,60.5 L409.0,60.3 L410.0,60.3 L411.1,61.3 L412.1,61.0 L413.2,61.6 L414.2,61.4 L415.1,61.9 L416.1,61.7 L417.0,61.6 L418.1,61.6 L419.2,62.3 L420.2,62.5 L421.2,62.9 L422.1,62.3 L423.2,62.9 L424.2,62.8 L425.4,63.0 L426.3,62.7 L427.2,62.9 L428.1,63.2 L429.1,63.6 L430.1,62.9 L431.2,63.3 L432.2,63.6 L433.3,63.8 L434.3,63.1 L435.4,63.1 L436.5,63.9 L437.6,63.9 L438.7,63.5 L439.7,63.1 L440.8,64.0 L441.8,63.5 L442.8,64.0 L443.9,63.8 L445.1,64.0 L446.2,63.5 L447.4,64.1 L448.6,63.6 L449.8,63.8 L450.9,64.3 L452.0,64.3 L453.1,63.8 L454.1,63.8 L455.1,64.0 L456.0,64.1 L456.8,64.0 L457.4,63.8 L458.0,63.9 L459.0,64.3 L459.8,64.3 L460.4,63.0 L460.9,63.2 L461.4,63.7 L462.0,63.6 L462.8,64.5 L464.0,64.0 L464.5,64.4 L465.0,64.4 L465.6,64.5 L466.3,64.3 L467.0,64.5 L467.8,64.7 L468.6,64.6 L469.5,64.8 L470.4,64.7 L471.4,64.7 L472.4,64.4 L473.4,65.0 L474.5,64.9 L475.6,64.8 L476.7,65.3 L477.9,65.4 L479.1,65.1 L480.3,64.9 L481.4,65.2 L482.7,64.9 L483.9,65.0 L485.1,65.3 L486.3,65.1 L487.5,65.4 L488.7,65.5 L489.8,65.1 L491.0,65.7 L491.9,65.3 L492.7,65.9 L493.6,65.9 L494.5,65.7 L495.4,65.3 L496.3,65.7 L497.2,65.6 L498.2,66.2 L499.1,65.5 L500.0,66.1 L501.0,66.3 L501.9,66.1 L502.9,66.1 L503.9,65.6 L504.9,66.3 L505.9,65.9 L506.8,66.3 L507.8,66.3 L508.8,65.6 L509.9,66.2 L510.9,66.3 L511.9,65.6 L512.9,65.8 L513.9,66.2 L515.0,65.7 L516.0,66.4 L517.1,65.8 L518.1,66.3 L519.1,65.7 L520.2,66.1 L521.2,66.4 L522.3,65.8 L523.4,65.9 L524.4,66.1 L525.5,65.9 L526.5,65.7 L527.6,65.8 L528.7,65.8 L529.7,66.5 L530.8,66.3 L531.9,66.5 L532.9,65.9 L534.0,66.5 L535.1,65.9 L536.1,66.3 L537.2,66.4 L538.3,66.1 L539.3,66.6 L540.4,66.3 L541.4,66.4 L542.4,66.7 L543.4,66.0 L544.5,66.8 L545.6,66.5 L546.8,66.3 L547.9,66.7 L549.1,66.3 L550.3,66.9 L551.5,66.6 L552.8,66.4 L554.1,66.8 L555.3,66.5 L556.6,66.3 L558.0,66.9 L559.3,66.3 L560.6,67.0 L561.9,66.5 L563.3,66.9 L564.6,67.2 L566.0,66.9 L567.3,67.0 L568.7,66.7 L570.0,66.5 L571.3,66.5 L572.7,66.6 L574.0,67.1 L575.3,67.0 L576.6,67.1 L577.9,67.4 L579.2,66.8 L580.4,66.9 L581.6,67.3 L582.8,66.8 L584.0,66.8 L585.2,67.1 L586.3,66.9 L587.4,67.2 L588.5,67.1 L589.5,67.4 L590.6,67.4 L591.5,67.1 L592.5,67.5 L593.4,67.4 L594.2,67.1 L595.0,67.9 L595.8,67.3 L596.5,67.2 L597.2,67.1 L597.8,67.7 L598.4,67.9 L598.9,67.8 L599.4,67.5 L599.8,67.4 L600.2,67.1 L600.5,67.7 L600.7,67.6 L600.9,67.5 L601.0,67.7 L601.0,67.5" fill="none" stroke="#e8721e" stroke-width="1.45" stroke-linejoin="round"/>
<path d="M338.6,87.9 L339.3,87.4 L340.8,86.5 L342.3,86.9 L343.2,86.3 L344.2,87.0 L345.1,87.3 L346.1,87.7 L346.9,88.1 L347.8,89.5 L348.6,89.6 L349.3,90.9 L350.1,92.2 L350.8,92.3 L351.4,93.1 L352.1,94.4 L352.7,95.2 L353.4,96.2 L354.1,97.3 L354.8,97.6 L355.4,98.8 L356.1,99.9 L356.8,100.7 L357.5,102.3 L358.1,102.9 L358.7,103.2 L359.6,102.4 L360.4,102.6 L361.2,102.0 L362.0,101.6 L362.4,102.2 L362.7,102.8 L363.0,103.7 L363.3,104.9 L363.6,106.3 L364.1,107.4 L364.6,108.8 L365.2,109.9 L365.8,110.7 L366.5,111.6 L367.2,112.2 L368.0,112.5 L368.8,113.5 L369.6,114.1 L370.4,115.0 L371.2,115.4 L372.0,115.8 L372.8,116.7 L373.6,117.5 L374.5,117.4 L375.4,118.5 L376.2,118.2 L377.1,118.9 L378.1,119.3 L379.0,120.2 L379.9,120.8 L380.8,121.0 L381.7,121.0 L382.6,121.9 L383.6,121.8 L384.5,122.1 L385.5,123.0 L386.5,123.1 L387.5,123.5 L388.5,123.8 L389.5,124.4 L390.5,124.3 L391.4,124.9 L392.4,125.1 L393.4,125.6 L394.4,125.5 L395.4,126.0 L396.5,126.2 L397.5,126.3 L398.5,126.4 L399.6,127.1 L400.6,126.8 L401.7,127.8 L402.7,127.4 L403.7,127.5 L404.7,127.7 L405.8,128.7 L406.8,128.3 L407.9,128.3 L409.0,128.3 L410.0,128.5 L411.1,129.2 L412.1,129.3 L413.2,129.5 L414.2,129.7 L415.2,129.2 L416.1,129.8 L417.0,129.8 L418.1,130.4 L419.2,130.7 L420.2,131.0 L421.2,130.5 L422.1,131.4 L423.1,131.7 L424.2,131.9 L425.4,131.3 L426.3,131.5 L427.2,131.5 L428.1,131.5 L429.1,132.3 L430.1,132.3 L431.1,132.2 L432.2,132.4 L433.3,132.3 L434.3,132.0 L435.4,131.8 L436.5,131.8 L437.6,132.4 L438.7,132.0 L439.7,132.1 L440.8,132.2 L441.8,131.9 L442.8,132.1 L443.9,132.2 L445.1,132.6 L446.2,132.4 L447.4,132.4 L448.6,133.0 L449.8,132.7 L450.9,133.0 L452.0,132.9 L453.1,132.4 L454.1,132.8 L455.1,132.8 L455.9,133.1 L456.7,132.7 L457.4,133.0 L458.0,132.8 L459.1,132.4 L459.9,132.7 L460.5,131.1 L461.0,131.1 L461.5,131.3 L462.2,132.4 L463.0,132.9 L463.9,133.6 L465.1,133.9 L466.5,133.2 L467.1,133.6 L467.8,133.7 L468.5,134.0 L469.3,133.4 L470.1,133.7 L471.0,133.6 L471.9,134.0 L472.8,133.5 L473.8,134.1 L474.9,133.5 L475.9,133.4 L477.0,133.8 L478.1,133.6 L479.2,133.2 L480.3,133.7 L481.4,133.1 L482.6,133.7 L483.7,133.6 L484.9,133.7 L486.0,133.5 L487.2,133.2 L488.3,133.2 L489.4,133.2 L490.5,133.7 L491.6,132.9 L492.7,133.6 L493.7,132.9 L494.6,133.0 L495.6,133.1 L496.5,133.7 L497.4,133.4 L498.4,133.3 L499.3,133.7 L500.2,133.2 L501.2,133.4 L502.1,133.5 L503.0,133.7 L504.0,133.7 L504.9,133.6 L505.9,133.4 L506.8,133.4 L507.8,133.3 L508.8,133.9 L509.8,133.8 L510.7,133.9 L511.8,133.4 L512.8,133.7 L513.8,134.0 L514.9,133.8 L515.9,133.5 L517.0,133.8 L518.1,134.2 L519.3,133.7 L520.4,133.6 L521.6,133.8 L522.8,134.2 L524.0,134.3 L524.8,133.7 L525.6,133.7 L526.5,133.8 L527.4,133.9 L528.3,134.1 L529.3,133.8 L530.3,134.0 L531.3,133.9 L532.4,134.6 L533.5,134.4 L534.6,133.9 L535.7,134.7 L536.8,133.9 L538.0,134.2 L539.2,134.8 L540.4,134.6 L541.6,134.6 L542.9,134.3 L544.1,134.2 L545.4,134.6 L546.7,134.1 L548.0,134.2 L549.3,134.4 L550.6,134.1 L552.0,134.5 L553.3,134.9 L554.6,134.8 L556.0,134.7 L557.3,134.8 L558.7,134.7 L560.0,134.4 L561.4,134.9 L562.7,134.7 L564.0,135.1 L565.4,135.2 L566.7,134.8 L568.0,135.0 L569.3,135.2 L570.6,134.9 L571.9,134.8 L573.2,135.2 L574.5,135.4 L575.7,135.3 L577.0,135.3 L578.2,135.4 L579.4,135.3 L580.6,135.3 L581.8,135.2 L582.9,135.1 L584.0,135.4 L585.1,134.9 L586.2,135.2 L587.2,135.6 L588.2,135.5 L589.2,135.5 L590.2,135.2 L591.1,135.3 L592.0,135.4 L592.9,135.5 L593.7,135.4 L594.5,135.6 L595.2,135.9 L595.9,135.2 L596.6,135.6 L597.2,135.8 L597.8,135.4 L598.3,135.5 L598.8,136.0 L599.3,135.1 L599.7,135.6 L600.0,135.3 L600.3,135.8 L600.6,136.0 L600.7,135.6 L600.9,135.2 L601.0,135.7 L601.0,135.6" fill="none" stroke="#261e52" stroke-width="1.45" stroke-linejoin="round"/>
<path d="M338.6,162.0 L339.1,161.6 L340.2,161.2 L341.6,161.0 L342.9,160.5 L343.9,160.6 L345.0,161.5 L346.0,161.5 L346.9,162.6 L347.6,163.0 L348.2,164.1 L348.8,164.3 L349.4,166.0 L350.1,166.3 L350.7,166.8 L351.4,167.7 L352.0,168.6 L352.7,169.0 L353.4,170.1 L354.1,170.9 L354.9,172.1 L355.6,172.9 L356.4,173.9 L357.2,174.8 L358.0,176.0 L358.7,176.6 L360.0,175.7 L361.3,175.0 L361.8,176.0 L362.2,176.3 L362.7,177.1 L363.1,178.1 L363.5,179.8 L364.0,180.9 L364.6,181.6 L365.3,182.3 L366.0,183.2 L366.8,183.6 L367.6,185.1 L368.5,185.2 L369.4,186.2 L370.3,187.1 L371.2,187.7 L372.1,188.0 L373.0,188.3 L374.0,189.1 L374.9,189.2 L375.9,190.2 L376.9,190.3 L378.0,191.2 L379.0,191.1 L379.9,191.6 L380.8,191.8 L381.7,192.4 L382.6,192.5 L383.6,192.7 L384.5,193.7 L385.5,193.7 L386.5,194.0 L387.5,194.4 L388.5,194.9 L389.5,195.2 L390.5,195.7 L391.4,196.1 L392.4,196.2 L393.4,197.0 L394.4,197.2 L395.4,196.8 L396.5,197.9 L397.5,198.2 L398.5,198.4 L399.6,198.1 L400.6,199.0 L401.7,199.1 L402.7,198.8 L403.7,199.0 L404.7,200.0 L405.8,199.9 L406.8,199.7 L407.9,199.7 L409.0,199.9 L410.0,200.1 L411.1,200.7 L412.1,200.4 L413.2,200.3 L414.2,201.1 L415.2,201.2 L416.1,200.8 L417.0,201.6 L418.1,201.5 L419.2,201.9 L420.2,202.1 L421.2,202.5 L422.1,202.7 L423.1,202.9 L424.2,202.6 L425.4,203.2 L426.3,203.1 L427.2,203.4 L428.1,203.2 L429.1,203.7 L430.1,203.4 L431.1,203.2 L432.2,203.2 L433.3,203.1 L434.3,203.5 L435.4,203.1 L436.5,203.5 L437.6,203.2 L438.7,203.5 L439.7,203.6 L440.8,203.6 L441.8,203.9 L442.8,203.2 L443.9,204.0 L445.1,203.7 L446.2,203.8 L447.4,203.9 L448.6,204.1 L449.7,203.7 L450.9,203.8 L452.0,204.3 L453.1,203.5 L454.1,204.0 L455.1,204.0 L455.9,203.5 L456.7,204.0 L457.4,204.1 L458.0,204.3 L459.1,203.7 L459.9,204.1 L460.4,203.2 L460.9,202.9 L461.4,203.7 L462.0,203.6 L462.6,204.4 L463.4,204.5 L464.3,204.3 L465.4,204.8 L466.6,204.4 L468.0,204.6 L468.5,204.7 L469.1,204.9 L469.6,204.4 L470.2,204.6 L470.9,204.7 L471.5,204.8 L472.2,205.1 L472.9,204.6 L473.7,205.1 L474.5,204.7 L475.3,204.8 L476.1,204.6 L476.9,204.9 L477.8,205.3 L478.7,205.0 L479.6,205.2 L480.5,204.8 L481.5,204.8 L482.5,204.8 L483.4,205.0 L484.4,205.1 L485.5,205.2 L486.5,204.6 L487.6,205.2 L488.6,205.3 L489.7,205.0 L490.8,204.6 L491.9,204.8 L493.0,204.6 L494.1,204.7 L495.3,205.4 L496.4,205.1 L497.5,205.2 L498.7,205.3 L499.9,205.4 L501.0,205.2 L502.2,205.2 L503.4,205.2 L504.5,205.3 L505.7,205.2 L506.9,205.3 L508.0,204.9 L509.2,205.3 L510.4,205.1 L511.6,205.4 L512.7,204.8 L513.9,204.9 L515.0,204.8 L516.2,205.4 L517.3,205.6 L518.5,205.4 L519.6,205.1 L520.7,205.5 L521.8,205.5 L522.9,205.3 L524.0,205.1 L524.9,205.1 L525.9,205.3 L526.9,205.2 L527.9,205.3 L529.0,205.5 L530.0,205.8 L531.1,205.0 L532.2,205.5 L533.4,205.1 L534.5,205.2 L535.7,205.8 L536.9,205.6 L538.1,205.9 L539.3,205.5 L540.6,205.2 L541.8,205.5 L543.1,205.8 L544.4,206.1 L545.7,206.2 L547.0,205.7 L548.3,205.7 L549.6,205.5 L550.9,206.0 L552.2,205.6 L553.6,205.6 L554.9,205.5 L556.2,205.5 L557.6,206.2 L558.9,205.7 L560.2,206.5 L561.6,205.7 L562.9,206.4 L564.2,205.8 L565.5,205.7 L566.8,206.4 L568.2,206.0 L569.4,206.5 L570.7,206.0 L572.0,205.9 L573.3,206.6 L574.5,206.6 L575.7,206.7 L576.9,206.6 L578.1,206.1 L579.3,206.6 L580.5,206.7 L581.6,206.5 L582.7,207.0 L583.8,206.4 L584.9,207.0 L585.9,206.8 L587.0,206.2 L588.0,206.3 L588.9,206.8 L589.9,207.0 L590.8,206.4 L591.7,206.6 L592.5,207.0 L593.3,206.5 L594.1,207.2 L594.8,206.8 L595.5,206.5 L596.2,206.8 L596.8,207.0 L597.4,206.9 L598.0,207.1 L598.5,206.6 L598.9,207.2 L599.4,206.8 L599.7,207.1 L600.1,207.1 L600.3,206.9 L600.6,206.9 L600.8,207.3 L600.9,207.4 L601.0,207.3 L601.0,207.1" fill="none" stroke="#d03418" stroke-width="1.45" stroke-linejoin="round"/>
<text x="57.4" y="26.6" font-size="11.20" text-anchor="start" fill="#111" font-family='"Liberation Sans", sans-serif' font-weight="normal" textLength="26.8" lengthAdjust="spacingAndGlyphs" stroke="#111" stroke-width="0.30" >(101)</text>
<text x="154.5" y="58.5" font-size="11.20" text-anchor="start" fill="#111" font-family='"Liberation Sans", sans-serif' font-weight="normal" textLength="26.5" lengthAdjust="spacingAndGlyphs" stroke="#111" stroke-width="0.30" >(200)</text>
<text x="357.4" y="29.1" font-size="11.20" text-anchor="start" fill="#111" font-family='"Liberation Sans", sans-serif' font-weight="normal" textLength="26.8" lengthAdjust="spacingAndGlyphs" stroke="#111" stroke-width="0.30" >(101)</text>
<text x="452.3" y="59.7" font-size="11.20" text-anchor="start" fill="#111" font-family='"Liberation Sans", sans-serif' font-weight="normal" textLength="26.7" lengthAdjust="spacingAndGlyphs" stroke="#111" stroke-width="0.30" >(200)</text>
<text x="250.1" y="39.5" font-size="10.40" fill="#111" stroke="#111" stroke-width="0.3" font-family='"Liberation Sans", sans-serif' textLength="11.7" lengthAdjust="spacingAndGlyphs">Ni</text>
<text x="261.9" y="33.5" font-size="5.8" fill="#111" stroke="#111" stroke-width="0.3" font-family='"Liberation Sans", sans-serif'>+</text>
<text x="265.4" y="33.8" font-size="6.5" fill="#111" stroke="#111" stroke-width="0.3" font-family='"Liberation Sans", sans-serif'>2</text>
<text x="272.8" y="39.5" font-size="10.40" fill="#111" stroke="#111" stroke-width="0.3" font-family='"Liberation Sans", sans-serif' textLength="16.4" lengthAdjust="spacingAndGlyphs">1%</text>
<text x="248.5" y="106.7" font-size="10.40" fill="#111" stroke="#111" stroke-width="0.3" font-family='"Liberation Sans", sans-serif' textLength="12.9" lengthAdjust="spacingAndGlyphs">Cr</text>
<text x="262.3" y="103.1" font-size="5.8" fill="#111" stroke="#111" stroke-width="0.3" font-family='"Liberation Sans", sans-serif'>+</text>
<text x="265.8" y="103.4" font-size="6.5" fill="#111" stroke="#111" stroke-width="0.3" font-family='"Liberation Sans", sans-serif'>2</text>
<text x="273.6" y="106.7" font-size="10.40" fill="#111" stroke="#111" stroke-width="0.3" font-family='"Liberation Sans", sans-serif' textLength="16.0" lengthAdjust="spacingAndGlyphs">1%</text>
<text x="251.7" y="184.0" font-size="10.40" fill="#111" stroke="#111" stroke-width="0.3" font-family='"Liberation Sans", sans-serif' textLength="12.1" lengthAdjust="spacingAndGlyphs">Al</text>
<text x="263.5" y="177.9" font-size="5.8" fill="#111" stroke="#111" stroke-width="0.3" font-family='"Liberation Sans", sans-serif'>+</text>
<text x="266.7" y="178.2" font-size="6.5" fill="#111" stroke="#111" stroke-width="0.3" font-family='"Liberation Sans", sans-serif'>3</text>
<text x="274.0" y="184.0" font-size="10.40" fill="#111" stroke="#111" stroke-width="0.3" font-family='"Liberation Sans", sans-serif' textLength="16.4" lengthAdjust="spacingAndGlyphs">1%</text>
<text x="554.5" y="42.0" font-size="10.40" fill="#111" stroke="#111" stroke-width="0.3" font-family='"Liberation Sans", sans-serif' textLength="12.1" lengthAdjust="spacingAndGlyphs">Ni</text>
<text x="566.5" y="36.4" font-size="5.8" fill="#111" stroke="#111" stroke-width="0.3" font-family='"Liberation Sans", sans-serif'>+</text>
<text x="569.6" y="36.7" font-size="6.5" fill="#111" stroke="#111" stroke-width="0.3" font-family='"Liberation Sans", sans-serif'>2</text>
<text x="577.4" y="42.0" font-size="10.40" fill="#111" stroke="#111" stroke-width="0.3" font-family='"Liberation Sans", sans-serif' textLength="22.5" lengthAdjust="spacingAndGlyphs">10%</text>
<text x="556.0" y="105.6" font-size="10.40" fill="#111" stroke="#111" stroke-width="0.3" font-family='"Liberation Sans", sans-serif' textLength="12.1" lengthAdjust="spacingAndGlyphs">Ni</text>
<text x="567.9" y="99.5" font-size="5.8" fill="#111" stroke="#111" stroke-width="0.3" font-family='"Liberation Sans", sans-serif'>+</text>
<text x="571.5" y="99.8" font-size="6.5" fill="#111" stroke="#111" stroke-width="0.3" font-family='"Liberation Sans", sans-serif'>2</text>
<text x="578.4" y="105.6" font-size="10.40" fill="#111" stroke="#111" stroke-width="0.3" font-family='"Liberation Sans", sans-serif' textLength="17.2" lengthAdjust="spacingAndGlyphs">5%</text>
<text x="557.0" y="178.1" font-size="10.40" fill="#111" stroke="#111" stroke-width="0.3" font-family='"Liberation Sans", sans-serif' textLength="12.1" lengthAdjust="spacingAndGlyphs">Ni</text>
<text x="568.4" y="172.4" font-size="5.8" fill="#111" stroke="#111" stroke-width="0.3" font-family='"Liberation Sans", sans-serif'>+</text>
<text x="572.2" y="172.8" font-size="6.5" fill="#111" stroke="#111" stroke-width="0.3" font-family='"Liberation Sans", sans-serif'>2</text>
<text x="579.8" y="178.1" font-size="10.40" fill="#111" stroke="#111" stroke-width="0.3" font-family='"Liberation Sans", sans-serif' textLength="16.2" lengthAdjust="spacingAndGlyphs">1%</text>
<text x="268.8" y="11.6" font-size="16.00" text-anchor="start" fill="#111" font-family='"Liberation Serif", serif' font-weight="bold" >(a)</text>
<text x="575.4" y="11.6" font-size="16.00" text-anchor="start" fill="#111" font-family='"Liberation Serif", serif' font-weight="bold" >(b)</text>
<text x="0.2" y="16.8" font-size="19.60" text-anchor="start" fill="#111" font-family='"Liberation Sans", sans-serif' font-weight="normal" textLength="22.0" lengthAdjust="spacingAndGlyphs" stroke="#111" stroke-width="0.20" >(1)</text>
<text x="0.1" y="287.3" font-size="19.60" text-anchor="start" fill="#111" font-family='"Liberation Sans", sans-serif' font-weight="normal" textLength="21.6" lengthAdjust="spacingAndGlyphs" stroke="#111" stroke-width="0.20" >(2)</text>
<line x1="33.80" y1="276.50" x2="33.80" y2="443.60" stroke="#050505" stroke-width="1.60"/>
<line x1="33.00" y1="442.80" x2="182.00" y2="442.80" stroke="#050505" stroke-width="1.60"/>
<line x1="33.80" y1="277.20" x2="41.00" y2="277.20" stroke="#050505" stroke-width="1.40"/>
<line x1="33.80" y1="285.52" x2="37.80" y2="285.52" stroke="#050505" stroke-width="1.40"/>
<line x1="33.80" y1="293.84" x2="37.80" y2="293.84" stroke="#050505" stroke-width="1.40"/>
<line x1="33.80" y1="302.16" x2="37.80" y2="302.16" stroke="#050505" stroke-width="1.40"/>
<line x1="33.80" y1="310.48" x2="37.80" y2="310.48" stroke="#050505" stroke-width="1.40"/>
<line x1="33.80" y1="318.80" x2="41.00" y2="318.80" stroke="#050505" stroke-width="1.40"/>
<line x1="33.80" y1="327.12" x2="37.80" y2="327.12" stroke="#050505" stroke-width="1.40"/>
<line x1="33.80" y1="335.44" x2="37.80" y2="335.44" stroke="#050505" stroke-width="1.40"/>
<line x1="33.80" y1="343.76" x2="37.80" y2="343.76" stroke="#050505" stroke-width="1.40"/>
<line x1="33.80" y1="352.08" x2="37.80" y2="352.08" stroke="#050505" stroke-width="1.40"/>
<line x1="33.80" y1="360.40" x2="41.00" y2="360.40" stroke="#050505" stroke-width="1.40"/>
<line x1="33.80" y1="368.72" x2="37.80" y2="368.72" stroke="#050505" stroke-width="1.40"/>
<line x1="33.80" y1="377.04" x2="37.80" y2="377.04" stroke="#050505" stroke-width="1.40"/>
<line x1="33.80" y1="385.36" x2="37.80" y2="385.36" stroke="#050505" stroke-width="1.40"/>
<line x1="33.80" y1="393.68" x2="37.80" y2="393.68" stroke="#050505" stroke-width="1.40"/>
<line x1="33.80" y1="402.00" x2="41.00" y2="402.00" stroke="#050505" stroke-width="1.40"/>
<line x1="33.80" y1="410.32" x2="37.80" y2="410.32" stroke="#050505" stroke-width="1.40"/>
<line x1="33.80" y1="418.64" x2="37.80" y2="418.64" stroke="#050505" stroke-width="1.40"/>
<line x1="33.80" y1="426.96" x2="37.80" y2="426.96" stroke="#050505" stroke-width="1.40"/>
<line x1="33.80" y1="435.28" x2="37.80" y2="435.28" stroke="#050505" stroke-width="1.40"/>
<line x1="36.60" y1="442.80" x2="36.60" y2="438.80" stroke="#050505" stroke-width="1.40"/>
<line x1="46.00" y1="442.80" x2="46.00" y2="438.80" stroke="#050505" stroke-width="1.40"/>
<line x1="55.40" y1="442.80" x2="55.40" y2="438.80" stroke="#050505" stroke-width="1.40"/>
<line x1="64.80" y1="442.80" x2="64.80" y2="436.00" stroke="#050505" stroke-width="1.40"/>
<line x1="74.20" y1="442.80" x2="74.20" y2="438.80" stroke="#050505" stroke-width="1.40"/>
<line x1="83.60" y1="442.80" x2="83.60" y2="438.80" stroke="#050505" stroke-width="1.40"/>
<line x1="93.00" y1="442.80" x2="93.00" y2="438.80" stroke="#050505" stroke-width="1.40"/>
<line x1="102.40" y1="442.80" x2="102.40" y2="438.80" stroke="#050505" stroke-width="1.40"/>
<line x1="111.80" y1="442.80" x2="111.80" y2="436.00" stroke="#050505" stroke-width="1.40"/>
<line x1="121.20" y1="442.80" x2="121.20" y2="438.80" stroke="#050505" stroke-width="1.40"/>
<line x1="130.60" y1="442.80" x2="130.60" y2="438.80" stroke="#050505" stroke-width="1.40"/>
<line x1="140.00" y1="442.80" x2="140.00" y2="438.80" stroke="#050505" stroke-width="1.40"/>
<line x1="149.40" y1="442.80" x2="149.40" y2="438.80" stroke="#050505" stroke-width="1.40"/>
<line x1="158.80" y1="442.80" x2="158.80" y2="436.00" stroke="#050505" stroke-width="1.40"/>
<line x1="168.20" y1="442.80" x2="168.20" y2="438.80" stroke="#050505" stroke-width="1.40"/>
<line x1="177.60" y1="442.80" x2="177.60" y2="438.80" stroke="#050505" stroke-width="1.40"/>
<text x="63.3" y="460.1" font-size="14.20" text-anchor="middle" fill="#111" font-family='"Liberation Sans", sans-serif' font-weight="normal" textLength="28.4" lengthAdjust="spacingAndGlyphs" stroke="#111" stroke-width="0.12" >1020</text>
<text x="109.8" y="460.1" font-size="14.20" text-anchor="middle" fill="#111" font-family='"Liberation Sans", sans-serif' font-weight="normal" textLength="28.4" lengthAdjust="spacingAndGlyphs" stroke="#111" stroke-width="0.12" >1035</text>
<text x="156.2" y="460.1" font-size="14.20" text-anchor="middle" fill="#111" font-family='"Liberation Sans", sans-serif' font-weight="normal" textLength="28.4" lengthAdjust="spacingAndGlyphs" stroke="#111" stroke-width="0.12" >1050</text>
<text x="41.8" y="480.0" font-size="15.60" text-anchor="start" fill="#111" font-family='"Liberation Sans", sans-serif' font-weight="normal" textLength="129.8" lengthAdjust="spacingAndGlyphs" stroke="#111" stroke-width="0.12" >Binding Energy (eV)</text>
<text transform="translate(25.4,384.4) rotate(-90)" font-size="15.1" font-family='"Liberation Sans", sans-serif' fill="#111" stroke="#111" stroke-width="0.2" textLength="49.6" lengthAdjust="spacingAndGlyphs">Counts</text>
<path d="M49.4,430.2 L52.0,429.2 L54.5,430.1 L57.8,428.7 L60.4,427.0 L62.4,423.2 L63.5,420.9 L64.4,418.3 L64.9,415.2 L65.2,412.0 L65.4,408.4 L65.6,405.4 L65.8,402.8 L66.0,398.7 L66.2,396.3 L66.4,393.2 L66.6,390.6 L66.7,387.4 L66.9,383.4 L67.1,379.7 L67.2,376.8 L67.3,374.3 L67.4,371.7 L67.5,369.1 L67.5,366.2 L67.6,361.7 L67.7,359.9 L67.7,356.7 L67.8,353.7 L67.9,350.1 L67.9,346.6 L68.0,344.5 L68.1,341.4 L68.2,338.1 L68.3,335.3 L68.4,331.3 L68.4,327.8 L68.5,325.5 L68.6,322.9 L68.7,319.1 L68.8,317.2 L68.9,314.5 L69.0,310.8 L69.1,308.6 L69.2,306.0 L69.3,303.0 L69.5,299.1 L69.8,296.3 L70.3,299.1 L70.6,302.3 L70.8,304.3 L71.0,306.4 L71.2,310.3 L71.3,313.0 L71.6,315.5 L71.7,318.8 L71.9,322.2 L72.0,325.2 L72.1,327.7 L72.3,330.7 L72.4,334.0 L72.5,336.5 L72.6,339.6 L72.7,342.6 L72.8,346.4 L72.9,348.9 L73.0,352.3 L73.1,355.1 L73.2,358.3 L73.3,360.7 L73.4,363.4 L73.5,367.9 L73.6,369.8 L73.7,372.6 L73.9,376.5 L74.0,379.9 L74.2,382.0 L74.3,385.8 L74.5,388.4 L74.7,391.7 L74.9,394.1 L75.0,397.3 L75.2,402.1 L75.4,405.0 L75.6,407.4 L75.9,410.4 L76.4,412.8 L77.0,417.1 L77.8,419.6 L79.0,422.8 L81.4,424.6 L84.3,425.8 L87.4,426.5 L90.6,425.3 L93.7,424.2 L96.9,423.4 L100.0,422.4 L103.1,421.4 L106.1,420.3 L109.2,420.0 L112.3,419.1 L114.9,416.9 L117.5,415.9 L120.0,414.3 L122.8,411.5 L125.7,411.2 L128.6,409.9 L131.6,408.4 L133.9,408.1 L135.3,404.2 L136.5,401.7 L137.4,398.1 L137.8,395.5 L138.0,392.1 L138.2,388.4 L138.4,385.1 L138.5,381.1 L138.7,379.0 L138.9,375.8 L139.1,371.5 L139.3,367.9 L139.6,365.0 L139.9,362.0 L140.2,359.9 L140.5,357.2 L140.9,354.1 L141.4,349.9 L142.1,348.1 L143.1,350.3 L143.5,352.8 L143.8,356.0 L144.2,357.6 L144.5,360.6 L144.7,364.8 L145.0,368.4 L145.2,371.3 L145.4,374.0 L145.7,377.6 L145.9,381.0 L146.2,383.1 L146.4,386.6 L146.7,389.5 L147.0,392.1 L147.5,395.6 L148.0,398.4 L148.7,401.5 L149.5,404.0 L150.9,407.6 L153.0,408.6 L156.2,410.5 L159.7,409.7 L162.8,409.0 L164.6,410.1" fill="none" stroke="#111" stroke-width="1.6" stroke-linejoin="round"/>
<line x1="80.90" y1="332.70" x2="102.60" y2="332.70" stroke="#111" stroke-width="1.40"/>
<text x="106.3" y="336.0" font-size="15.80" text-anchor="start" fill="#111" font-family='"Liberation Sans", sans-serif' font-weight="normal" textLength="33.1" lengthAdjust="spacingAndGlyphs" stroke="#111" stroke-width="0.15" >Zn2p</text>
<text x="150.6" y="291.9" font-size="16.60" text-anchor="start" fill="#111" font-family='"Liberation Serif", serif' font-weight="bold" >(a)</text>
<line x1="207.40" y1="276.40" x2="207.40" y2="443.70" stroke="#050505" stroke-width="1.60"/>
<line x1="206.60" y1="442.90" x2="356.20" y2="442.90" stroke="#050505" stroke-width="1.60"/>
<line x1="207.40" y1="277.10" x2="214.60" y2="277.10" stroke="#050505" stroke-width="1.40"/>
<line x1="207.40" y1="287.76" x2="211.40" y2="287.76" stroke="#050505" stroke-width="1.40"/>
<line x1="207.40" y1="298.42" x2="211.40" y2="298.42" stroke="#050505" stroke-width="1.40"/>
<line x1="207.40" y1="309.08" x2="211.40" y2="309.08" stroke="#050505" stroke-width="1.40"/>
<line x1="207.40" y1="319.74" x2="211.40" y2="319.74" stroke="#050505" stroke-width="1.40"/>
<line x1="207.40" y1="330.40" x2="214.60" y2="330.40" stroke="#050505" stroke-width="1.40"/>
<line x1="207.40" y1="341.06" x2="211.40" y2="341.06" stroke="#050505" stroke-width="1.40"/>
<line x1="207.40" y1="351.72" x2="211.40" y2="351.72" stroke="#050505" stroke-width="1.40"/>
<line x1="207.40" y1="362.38" x2="211.40" y2="362.38" stroke="#050505" stroke-width="1.40"/>
<line x1="207.40" y1="373.04" x2="211.40" y2="373.04" stroke="#050505" stroke-width="1.40"/>
<line x1="207.40" y1="383.70" x2="214.60" y2="383.70" stroke="#050505" stroke-width="1.40"/>
<line x1="207.40" y1="394.36" x2="211.40" y2="394.36" stroke="#050505" stroke-width="1.40"/>
<line x1="207.40" y1="405.02" x2="211.40" y2="405.02" stroke="#050505" stroke-width="1.40"/>
<line x1="207.40" y1="415.68" x2="211.40" y2="415.68" stroke="#050505" stroke-width="1.40"/>
<line x1="207.40" y1="426.34" x2="211.40" y2="426.34" stroke="#050505" stroke-width="1.40"/>
<line x1="207.40" y1="437.00" x2="214.60" y2="437.00" stroke="#050505" stroke-width="1.40"/>
<line x1="210.30" y1="442.90" x2="210.30" y2="438.90" stroke="#050505" stroke-width="1.40"/>
<line x1="217.30" y1="442.90" x2="217.30" y2="438.90" stroke="#050505" stroke-width="1.40"/>
<line x1="224.30" y1="442.90" x2="224.30" y2="436.10" stroke="#050505" stroke-width="1.40"/>
<line x1="231.30" y1="442.90" x2="231.30" y2="438.90" stroke="#050505" stroke-width="1.40"/>
<line x1="238.30" y1="442.90" x2="238.30" y2="438.90" stroke="#050505" stroke-width="1.40"/>
<line x1="245.30" y1="442.90" x2="245.30" y2="438.90" stroke="#050505" stroke-width="1.40"/>
<line x1="252.30" y1="442.90" x2="252.30" y2="438.90" stroke="#050505" stroke-width="1.40"/>
<line x1="259.30" y1="442.90" x2="259.30" y2="436.10" stroke="#050505" stroke-width="1.40"/>
<line x1="266.30" y1="442.90" x2="266.30" y2="438.90" stroke="#050505" stroke-width="1.40"/>
<line x1="273.30" y1="442.90" x2="273.30" y2="438.90" stroke="#050505" stroke-width="1.40"/>
<line x1="280.30" y1="442.90" x2="280.30" y2="438.90" stroke="#050505" stroke-width="1.40"/>
<line x1="287.30" y1="442.90" x2="287.30" y2="438.90" stroke="#050505" stroke-width="1.40"/>
<line x1="294.30" y1="442.90" x2="294.30" y2="436.10" stroke="#050505" stroke-width="1.40"/>
<line x1="301.30" y1="442.90" x2="301.30" y2="438.90" stroke="#050505" stroke-width="1.40"/>
<line x1="308.30" y1="442.90" x2="308.30" y2="438.90" stroke="#050505" stroke-width="1.40"/>
<line x1="315.30" y1="442.90" x2="315.30" y2="438.90" stroke="#050505" stroke-width="1.40"/>
<line x1="322.30" y1="442.90" x2="322.30" y2="438.90" stroke="#050505" stroke-width="1.40"/>
<line x1="329.30" y1="442.90" x2="329.30" y2="436.10" stroke="#050505" stroke-width="1.40"/>
<line x1="336.30" y1="442.90" x2="336.30" y2="438.90" stroke="#050505" stroke-width="1.40"/>
<line x1="343.30" y1="442.90" x2="343.30" y2="438.90" stroke="#050505" stroke-width="1.40"/>
<line x1="350.30" y1="442.90" x2="350.30" y2="438.90" stroke="#050505" stroke-width="1.40"/>
<text x="224.8" y="459.1" font-size="12.60" text-anchor="middle" fill="#111" font-family='"Liberation Sans", sans-serif' font-weight="normal" stroke="#111" stroke-width="0.15" >0</text>
<text x="259.3" y="459.1" font-size="12.60" text-anchor="middle" fill="#111" font-family='"Liberation Sans", sans-serif' font-weight="normal" stroke="#111" stroke-width="0.15" >4</text>
<text x="294.2" y="459.1" font-size="12.60" text-anchor="middle" fill="#111" font-family='"Liberation Sans", sans-serif' font-weight="normal" stroke="#111" stroke-width="0.15" >8</text>
<text x="329.8" y="459.1" font-size="12.60" text-anchor="middle" fill="#111" font-family='"Liberation Sans", sans-serif' font-weight="normal" stroke="#111" stroke-width="0.15" >12</text>
<text x="225.4" y="479.4" font-size="15.60" text-anchor="start" fill="#111" font-family='"Liberation Sans", sans-serif' font-weight="normal" textLength="130.5" lengthAdjust="spacingAndGlyphs" stroke="#111" stroke-width="0.12" >Binding Energy (eV)</text>
<path d="M207.7,437.5 L207.8,437.5 L208.2,437.5 L208.7,437.5 L209.5,437.6 L210.4,437.6 L211.4,437.6 L212.6,437.6 L213.8,437.6 L215.1,437.6 L216.5,437.7 L217.8,437.7 L219.1,437.7 L220.4,437.6 L221.6,437.6 L222.8,437.6 L223.8,437.5 L224.9,437.4 L226.0,437.4 L227.1,437.3 L228.1,437.3 L229.2,437.2 L230.3,437.1 L231.3,437.0 L232.4,436.9 L233.4,436.7 L234.4,436.5 L235.4,436.3 L236.4,436.0 L237.3,435.6 L238.2,435.2 L239.1,434.7 L240.0,434.2 L240.8,433.7 L241.7,433.1 L242.5,432.5 L243.3,431.8 L244.1,431.2 L244.9,430.5 L245.7,429.7 L246.4,429.0 L247.2,428.3 L248.0,427.5 L248.7,426.8 L249.3,426.1 L250.0,425.3 L250.7,424.5 L251.3,423.7 L251.9,422.8 L252.6,422.0 L253.2,421.1 L253.8,420.3 L254.5,419.4 L255.1,418.5 L255.7,417.7 L256.3,416.9 L256.9,416.1 L257.6,415.4 L258.2,414.7 L258.8,414.0 L259.6,413.2 L260.4,412.4 L261.2,411.7 L261.9,411.0 L262.7,410.3 L263.5,409.7 L264.3,409.1 L265.1,408.5 L265.9,407.9 L266.8,407.4 L267.7,406.9 L268.6,406.4 L269.6,406.0 L270.6,405.5 L271.6,405.1 L272.6,404.7 L273.7,404.4 L274.7,404.1 L275.7,403.8 L276.7,403.5 L277.6,403.3 L278.7,403.1 L279.7,402.9 L280.8,402.7 L281.8,402.5 L282.8,402.5 L283.8,402.5 L284.7,402.6 L285.6,402.8 L286.5,403.2 L287.3,403.7 L288.1,404.3 L288.8,405.0 L289.5,405.8 L290.3,406.6 L291.0,407.5 L291.6,408.2 L292.1,409.0 L292.6,409.9 L293.2,410.8 L293.7,411.7 L294.2,412.7 L294.7,413.7 L295.3,414.7 L295.8,415.6 L296.4,416.6 L297.0,417.5 L297.6,418.4 L298.3,419.2 L299.0,420.0 L299.7,420.7 L300.4,421.4 L301.2,422.2 L302.0,422.9 L302.8,423.6 L303.6,424.2 L304.4,424.9 L305.2,425.5 L306.1,426.0 L306.9,426.6 L307.8,427.1 L308.6,427.5 L309.6,428.0 L310.6,428.4 L311.6,428.8 L312.7,429.1 L313.7,429.4 L314.8,429.6 L315.9,429.8 L316.9,430.0 L317.9,430.1 L318.9,430.2 L320.0,430.2 L321.0,430.2 L322.1,430.1 L323.1,429.9 L324.1,429.7 L325.2,429.5 L326.2,429.3 L327.2,429.1 L328.2,428.9 L329.3,428.6 L330.3,428.3 L331.4,427.9 L332.4,427.6 L333.4,427.3 L334.5,427.1 L335.5,426.9 L336.5,426.8 L337.5,426.8 L338.5,426.8 L339.5,426.8 L340.5,426.9 L341.6,426.9 L342.6,426.9 L343.7,426.9 L344.8,426.8 L346.0,426.7 L347.3,426.5 L348.7,426.3 L350.0,426.2 L351.4,426.0 L352.6,425.8 L353.6,425.6 L354.4,425.5 L354.9,425.4 L355.1,425.4" fill="none" stroke="#f03a1a" stroke-width="1.3" stroke-linejoin="round"/>
<path d="M207.7,437.0 L207.8,437.0 L208.2,437.0 L208.8,437.0 L209.5,437.0 L210.5,437.0 L211.5,436.9 L212.7,436.9 L214.0,436.9 L215.3,436.8 L216.6,436.8 L217.9,436.7 L219.3,436.6 L220.5,436.5 L221.7,436.4 L222.8,436.2 L223.8,436.1 L224.9,435.9 L225.9,435.7 L227.0,435.5 L228.0,435.3 L228.9,435.1 L229.9,434.8 L230.9,434.5 L231.8,434.2 L232.7,433.8 L233.7,433.4 L234.6,432.9 L235.4,432.4 L236.2,431.9 L237.0,431.4 L237.8,430.8 L238.6,430.2 L239.4,429.5 L240.1,428.9 L240.9,428.2 L241.7,427.5 L242.4,426.7 L243.1,425.9 L243.9,425.1 L244.6,424.3 L245.3,423.5 L245.9,422.8 L246.5,422.0 L247.0,421.2 L247.6,420.3 L248.2,419.5 L248.7,418.6 L249.3,417.6 L249.8,416.7 L250.3,415.7 L250.9,414.8 L251.4,413.8 L251.9,412.9 L252.4,411.9 L253.0,411.0 L253.5,410.1 L254.0,409.2 L254.5,408.4 L255.1,407.5 L255.6,406.7 L256.1,406.0 L256.8,405.1 L257.5,404.1 L258.1,403.2 L258.8,402.3 L259.5,401.4 L260.1,400.6 L260.8,399.8 L261.5,399.0 L262.1,398.3 L262.8,397.7 L263.4,397.1 L264.1,396.6 L265.2,396.0 L266.2,395.5 L267.3,395.2 L268.4,395.0 L269.5,394.7 L270.6,394.5 L271.7,394.4 L272.8,394.3 L273.9,394.2 L275.0,394.1 L276.2,393.9 L277.2,393.6 L278.2,393.2 L279.3,392.7 L280.3,392.2 L281.4,391.7 L282.4,391.3 L283.4,391.2 L284.3,391.2 L285.2,391.5 L286.1,391.9 L286.9,392.5 L287.7,393.3 L288.4,394.1 L289.2,395.0 L290.0,396.0 L290.5,396.6 L290.9,397.3 L291.4,398.1 L291.8,398.9 L292.3,399.8 L292.7,400.7 L293.1,401.7 L293.6,402.7 L294.0,403.6 L294.4,404.6 L294.9,405.6 L295.3,406.6 L295.8,407.6 L296.2,408.6 L296.7,409.5 L297.2,410.4 L297.8,411.2 L298.3,412.0 L299.0,412.9 L299.6,413.8 L300.3,414.7 L301.0,415.5 L301.7,416.4 L302.5,417.3 L303.2,418.1 L304.0,418.9 L304.8,419.6 L305.5,420.3 L306.3,420.9 L307.1,421.4 L307.8,421.9 L308.6,422.3 L309.6,422.7 L310.6,422.9 L311.6,423.0 L312.7,423.0 L313.7,422.9 L314.8,422.8 L315.8,422.7 L316.9,422.7 L317.9,422.7 L318.9,422.6 L319.9,422.5 L320.9,422.3 L321.9,422.2 L323.0,422.1 L324.0,421.9 L325.1,421.9 L326.1,421.9 L327.2,421.9 L328.2,422.0 L329.2,422.2 L330.3,422.4 L331.3,422.7 L332.4,423.0 L333.5,423.4 L334.5,423.7 L335.6,424.0 L336.6,424.3 L337.7,424.5 L338.6,424.7 L339.6,424.8 L340.7,424.8 L341.8,424.8 L342.9,424.7 L343.9,424.6 L344.9,424.5 L345.9,424.3 L346.9,424.1 L347.9,424.0 L349.1,423.8 L350.4,423.6 L351.8,423.3 L353.1,423.1 L354.1,422.9 L354.8,422.8 L355.1,422.7" fill="none" stroke="#1018e0" stroke-width="1.3" stroke-linejoin="round"/>
<path d="M207.7,437.0 L207.8,437.0 L208.2,437.0 L208.7,437.0 L209.4,437.0 L210.3,437.1 L211.3,437.1 L212.5,437.1 L213.7,437.1 L215.0,437.0 L216.3,437.0 L217.7,437.0 L219.1,436.9 L220.5,436.8 L221.9,436.7 L223.2,436.6 L224.4,436.5 L225.5,436.3 L226.5,436.1 L227.6,435.8 L228.6,435.5 L229.6,435.2 L230.6,434.9 L231.6,434.5 L232.6,434.1 L233.5,433.7 L234.5,433.2 L235.4,432.8 L236.3,432.3 L237.2,431.8 L238.1,431.3 L239.0,430.7 L239.9,430.2 L240.8,429.6 L241.6,429.0 L242.4,428.3 L243.2,427.6 L244.0,426.9 L244.8,426.1 L245.6,425.4 L246.3,424.6 L247.1,423.9 L247.8,423.2 L248.6,422.5 L249.3,421.9 L250.0,421.3 L250.7,420.8 L251.7,420.1 L252.6,419.5 L253.6,419.0 L254.5,418.5 L255.4,418.1 L256.4,417.7 L257.4,417.3 L258.4,417.0 L259.3,416.7 L260.4,416.5 L261.4,416.3 L262.5,416.2 L263.5,416.0 L264.6,415.8 L265.7,415.6 L266.8,415.4 L267.8,415.2 L268.8,415.0 L269.8,414.8 L270.8,414.6 L271.8,414.4 L272.8,414.2 L273.8,413.9 L274.8,413.7 L275.8,413.4 L276.7,413.1 L277.6,412.7 L278.6,412.3 L279.6,411.8 L280.5,411.3 L281.5,410.8 L282.4,410.3 L283.3,409.7 L284.1,409.0 L284.9,408.2 L285.6,407.4 L286.1,406.7 L286.6,405.9 L287.1,405.1 L287.5,404.3 L287.9,403.4 L288.2,402.4 L288.6,401.4 L288.9,400.4 L289.2,399.4 L289.5,398.3 L289.8,397.2 L290.1,396.1 L290.4,394.9 L290.7,393.8 L291.0,392.6 L291.2,391.8 L291.4,390.9 L291.6,390.0 L291.8,389.1 L292.0,388.2 L292.1,387.2 L292.3,386.3 L292.5,385.3 L292.6,384.3 L292.8,383.3 L292.9,382.3 L293.1,381.3 L293.2,380.2 L293.4,379.2 L293.5,378.1 L293.6,377.1 L293.8,376.0 L293.9,374.9 L294.0,373.8 L294.2,372.7 L294.3,371.7 L294.4,370.6 L294.6,369.5 L294.7,368.4 L294.8,367.3 L295.0,366.3 L295.1,365.2 L295.2,364.1 L295.4,363.1 L295.5,362.0 L295.6,361.0 L295.8,360.0 L295.9,359.0 L296.0,358.0 L296.1,357.0 L296.3,355.9 L296.4,354.9 L296.5,353.8 L296.7,352.8 L296.8,351.7 L296.9,350.6 L297.0,349.6 L297.2,348.5 L297.3,347.4 L297.4,346.4 L297.5,345.3 L297.6,344.2 L297.8,343.2 L297.9,342.1 L298.0,341.1 L298.1,340.1 L298.2,339.0 L298.4,338.0 L298.5,337.0 L298.6,336.1 L298.7,335.1 L298.8,334.1 L298.9,333.2 L299.1,332.3 L299.2,331.4 L299.3,330.5 L299.4,329.6 L299.5,328.8 L299.6,328.0 L299.8,326.8 L299.9,325.7 L300.0,324.6 L300.2,323.5 L300.3,322.5 L300.5,321.5 L300.6,320.5 L300.7,319.5 L300.9,318.6 L301.0,317.6 L301.1,316.7 L301.3,315.8 L301.5,314.9 L301.6,314.0 L301.8,313.1 L302.0,312.0 L302.3,310.9 L302.6,309.8 L302.9,308.7 L303.2,307.7 L303.5,306.6 L303.8,305.6 L304.1,304.6 L304.3,303.6 L304.6,302.6 L304.9,301.5 L305.1,300.4 L305.3,299.2 L305.5,298.1 L305.8,297.1 L306.0,296.0 L306.2,295.1 L306.4,294.3 L306.7,293.2 L307.1,292.2 L307.5,291.4 L308.2,290.5 L308.9,290.1 L309.6,290.5 L310.3,291.4 L310.7,292.2 L311.1,293.2 L311.4,294.3 L311.6,295.1 L311.8,296.0 L312.1,297.1 L312.3,298.1 L312.5,299.2 L312.8,300.4 L313.0,301.5 L313.3,302.6 L313.6,303.6 L313.9,304.6 L314.2,305.7 L314.5,306.7 L314.8,307.8 L315.1,308.9 L315.5,309.9 L315.8,311.0 L316.1,312.1 L316.4,313.1 L316.7,314.1 L316.9,315.0 L317.2,315.9 L317.4,316.8 L317.7,317.7 L317.9,318.6 L318.2,319.6 L318.4,320.6 L318.6,321.8 L318.9,323.0 L319.0,323.7 L319.2,324.5 L319.3,325.2 L319.5,326.1 L319.6,326.9 L319.7,327.8 L319.9,328.7 L320.0,329.7 L320.2,330.7 L320.3,331.7 L320.5,332.7 L320.6,333.7 L320.8,334.8 L320.9,335.8 L321.0,336.9 L321.2,338.0 L321.3,339.1 L321.5,340.2 L321.6,341.3 L321.8,342.4 L321.9,343.5 L322.1,344.6 L322.2,345.7 L322.4,346.8 L322.5,347.9 L322.6,349.0 L322.8,350.0 L322.9,351.1 L323.1,352.1 L323.2,353.1 L323.4,354.1 L323.5,355.0 L323.6,355.9 L323.8,356.8 L323.9,357.7 L324.1,358.8 L324.3,360.0 L324.4,361.0 L324.6,362.1 L324.8,363.1 L324.9,364.1 L325.1,365.1 L325.2,366.1 L325.4,367.1 L325.6,368.0 L325.7,369.0 L325.9,370.0 L326.1,370.9 L326.2,371.9 L326.4,372.9 L326.6,373.8 L326.8,374.8 L327.0,375.9 L327.2,376.9 L327.4,377.9 L327.6,378.8 L327.8,379.8 L328.0,380.8 L328.2,381.8 L328.4,382.8 L328.6,383.8 L328.8,384.8 L329.0,385.8 L329.2,386.9 L329.4,387.9 L329.6,388.9 L329.8,389.9 L330.1,390.9 L330.3,391.9 L330.5,392.9 L330.8,393.9 L331.0,394.9 L331.3,395.9 L331.6,396.8 L331.8,397.8 L332.1,398.7 L332.4,399.6 L332.7,400.6 L333.1,401.6 L333.4,402.7 L333.8,403.7 L334.2,404.7 L334.5,405.7 L334.9,406.7 L335.3,407.7 L335.7,408.7 L336.1,409.7 L336.5,410.6 L336.9,411.5 L337.4,412.4 L337.8,413.2 L338.2,414.0 L338.7,414.7 L339.1,415.4 L339.6,416.1 L340.3,417.0 L341.0,417.8 L341.7,418.6 L342.5,419.2 L343.3,419.8 L344.1,420.4 L344.9,420.9 L345.8,421.3 L346.8,421.7 L348.0,422.0 L349.4,422.2 L350.8,422.4 L352.1,422.5 L353.3,422.6 L354.2,422.7 L354.9,422.7 L355.1,422.7" fill="none" stroke="#1a1a1a" stroke-width="1.3" stroke-linejoin="round"/>
<line x1="213.80" y1="282.40" x2="246.60" y2="282.40" stroke="#1018e0" stroke-width="1.70"/>
<line x1="213.80" y1="306.00" x2="246.60" y2="306.00" stroke="#f03a1a" stroke-width="1.70"/>
<line x1="207.50" y1="330.30" x2="246.60" y2="330.30" stroke="#1a1a1a" stroke-width="1.70"/>
<g transform="translate(246.0,286.8) scale(0.925,1)"><text x="0" y="0" font-size="14.2" font-family='"Liberation Sans", sans-serif' fill="#111" stroke="#111" stroke-width="0.15">Ni<tspan font-size="10.2" dy="6.8">0.10</tspan><tspan dy="-6.8">Ti</tspan><tspan font-size="10.2" dy="6.8">0.90</tspan><tspan dy="-6.8">O</tspan><tspan font-size="10.2" dy="6.8">2</tspan></text></g>
<text x="249.9" y="311.0" font-size="14.2" font-family='"Liberation Sans", sans-serif' fill="#111" stroke="#111" stroke-width="0.15">TiO<tspan font-size="10.6" dy="6.6">2</tspan></text>
<text x="249.6" y="334.5" font-size="14.20" text-anchor="start" fill="#111" font-family='"Liberation Sans", sans-serif' font-weight="normal" stroke="#111" stroke-width="0.15" >ZnO</text>
<text x="338.5" y="291.9" font-size="16.60" text-anchor="start" fill="#111" font-family='"Liberation Serif", serif' font-weight="bold" >(b)</text>
<line x1="402.80" y1="271.70" x2="402.80" y2="442.20" stroke="#050505" stroke-width="1.60"/>
<line x1="402.00" y1="441.40" x2="551.00" y2="441.40" stroke="#050505" stroke-width="1.60"/>
<line x1="402.80" y1="279.60" x2="406.80" y2="279.60" stroke="#050505" stroke-width="1.40"/>
<line x1="402.80" y1="293.10" x2="406.80" y2="293.10" stroke="#050505" stroke-width="1.40"/>
<line x1="402.80" y1="306.60" x2="410.00" y2="306.60" stroke="#050505" stroke-width="1.40"/>
<line x1="402.80" y1="320.10" x2="406.80" y2="320.10" stroke="#050505" stroke-width="1.40"/>
<line x1="402.80" y1="333.60" x2="406.80" y2="333.60" stroke="#050505" stroke-width="1.40"/>
<line x1="402.80" y1="347.10" x2="406.80" y2="347.10" stroke="#050505" stroke-width="1.40"/>
<line x1="402.80" y1="360.60" x2="406.80" y2="360.60" stroke="#050505" stroke-width="1.40"/>
<line x1="402.80" y1="374.10" x2="410.00" y2="374.10" stroke="#050505" stroke-width="1.40"/>
<line x1="402.80" y1="387.60" x2="406.80" y2="387.60" stroke="#050505" stroke-width="1.40"/>
<line x1="402.80" y1="401.10" x2="406.80" y2="401.10" stroke="#050505" stroke-width="1.40"/>
<line x1="402.80" y1="414.60" x2="406.80" y2="414.60" stroke="#050505" stroke-width="1.40"/>
<line x1="402.80" y1="428.10" x2="406.80" y2="428.10" stroke="#050505" stroke-width="1.40"/>
<line x1="402.80" y1="441.40" x2="402.80" y2="434.40" stroke="#050505" stroke-width="1.40"/>
<line x1="408.73" y1="441.40" x2="408.73" y2="437.40" stroke="#050505" stroke-width="1.40"/>
<line x1="414.66" y1="441.40" x2="414.66" y2="437.40" stroke="#050505" stroke-width="1.40"/>
<line x1="420.58" y1="441.40" x2="420.58" y2="437.40" stroke="#050505" stroke-width="1.40"/>
<line x1="426.51" y1="441.40" x2="426.51" y2="437.40" stroke="#050505" stroke-width="1.40"/>
<line x1="432.44" y1="441.40" x2="432.44" y2="434.40" stroke="#050505" stroke-width="1.40"/>
<line x1="438.37" y1="441.40" x2="438.37" y2="437.40" stroke="#050505" stroke-width="1.40"/>
<line x1="444.30" y1="441.40" x2="444.30" y2="437.40" stroke="#050505" stroke-width="1.40"/>
<line x1="450.22" y1="441.40" x2="450.22" y2="437.40" stroke="#050505" stroke-width="1.40"/>
<line x1="456.15" y1="441.40" x2="456.15" y2="437.40" stroke="#050505" stroke-width="1.40"/>
<line x1="462.08" y1="441.40" x2="462.08" y2="434.40" stroke="#050505" stroke-width="1.40"/>
<line x1="468.01" y1="441.40" x2="468.01" y2="437.40" stroke="#050505" stroke-width="1.40"/>
<line x1="473.94" y1="441.40" x2="473.94" y2="437.40" stroke="#050505" stroke-width="1.40"/>
<line x1="479.86" y1="441.40" x2="479.86" y2="437.40" stroke="#050505" stroke-width="1.40"/>
<line x1="485.79" y1="441.40" x2="485.79" y2="437.40" stroke="#050505" stroke-width="1.40"/>
<line x1="491.72" y1="441.40" x2="491.72" y2="434.40" stroke="#050505" stroke-width="1.40"/>
<line x1="497.65" y1="441.40" x2="497.65" y2="437.40" stroke="#050505" stroke-width="1.40"/>
<line x1="503.58" y1="441.40" x2="503.58" y2="437.40" stroke="#050505" stroke-width="1.40"/>
<line x1="509.50" y1="441.40" x2="509.50" y2="437.40" stroke="#050505" stroke-width="1.40"/>
<line x1="515.43" y1="441.40" x2="515.43" y2="437.40" stroke="#050505" stroke-width="1.40"/>
<line x1="521.36" y1="441.40" x2="521.36" y2="434.40" stroke="#050505" stroke-width="1.40"/>
<line x1="527.29" y1="441.40" x2="527.29" y2="437.40" stroke="#050505" stroke-width="1.40"/>
<line x1="533.22" y1="441.40" x2="533.22" y2="437.40" stroke="#050505" stroke-width="1.40"/>
<line x1="539.14" y1="441.40" x2="539.14" y2="437.40" stroke="#050505" stroke-width="1.40"/>
<line x1="545.07" y1="441.40" x2="545.07" y2="437.40" stroke="#050505" stroke-width="1.40"/>
<line x1="551.00" y1="441.40" x2="551.00" y2="434.40" stroke="#050505" stroke-width="1.40"/>
<text x="401.8" y="459.6" font-size="14.00" text-anchor="middle" fill="#111" font-family='"Liberation Sans", sans-serif' font-weight="normal" stroke="#111" stroke-width="0.15" >6</text>
<text x="431.4" y="459.6" font-size="14.00" text-anchor="middle" fill="#111" font-family='"Liberation Sans", sans-serif' font-weight="normal" stroke="#111" stroke-width="0.15" >5</text>
<text x="461.1" y="459.6" font-size="14.00" text-anchor="middle" fill="#111" font-family='"Liberation Sans", sans-serif' font-weight="normal" stroke="#111" stroke-width="0.15" >4</text>
<text x="490.7" y="459.6" font-size="14.00" text-anchor="middle" fill="#111" font-family='"Liberation Sans", sans-serif' font-weight="normal" stroke="#111" stroke-width="0.15" >3</text>
<text x="520.4" y="459.6" font-size="14.00" text-anchor="middle" fill="#111" font-family='"Liberation Sans", sans-serif' font-weight="normal" stroke="#111" stroke-width="0.15" >2</text>
<text x="550.0" y="459.6" font-size="14.00" text-anchor="middle" fill="#111" font-family='"Liberation Sans", sans-serif' font-weight="normal" stroke="#111" stroke-width="0.15" >1</text>
<text x="436.6" y="479.8" font-size="15.60" text-anchor="start" fill="#111" font-family='"Liberation Sans", sans-serif' font-weight="normal" textLength="77.6" lengthAdjust="spacingAndGlyphs" stroke="#111" stroke-width="0.12" >Energy (eV)</text>
<text transform="translate(393.0,427.9) rotate(-90)" font-size="14.9" font-family='"Liberation Sans", sans-serif' fill="#111" stroke="#111" stroke-width="0.15" textLength="147.6" lengthAdjust="spacingAndGlyphs">Absorbance (arb. unit)</text>
<text x="566.5" y="288.4" font-size="16.60" text-anchor="start" fill="#111" font-family='"Liberation Serif", serif' font-weight="bold" >(c)</text>
<path d="M402.3,343.6 L402.4,343.4 L402.8,342.8 L403.4,341.9 L404.2,340.9 L405.0,339.7 L406.0,338.5 L406.9,337.5 L407.7,336.6 L408.5,335.9 L409.2,335.3 L410.0,334.7 L410.9,334.1 L411.7,333.5 L412.6,332.9 L413.5,332.4 L414.5,331.9 L415.4,331.4 L416.3,330.9 L417.3,330.5 L418.3,330.1 L419.4,329.6 L420.4,329.2 L421.5,328.9 L422.5,328.5 L423.6,328.2 L424.6,327.9 L425.6,327.6 L426.6,327.3 L427.7,327.1 L428.7,326.8 L429.7,326.6 L430.8,326.4 L431.8,326.2 L432.8,326.1 L433.7,326.0 L434.6,326.0 L435.8,326.0 L436.9,326.1 L438.0,326.3 L439.0,326.6 L440.0,327.0 L441.0,327.5 L441.8,328.2 L442.7,329.0 L443.5,329.8 L444.4,330.8 L444.9,331.4 L445.5,332.2 L446.0,332.9 L446.6,333.7 L447.1,334.6 L447.7,335.4 L448.2,336.3 L448.8,337.3 L449.3,338.2 L449.8,339.1 L450.3,340.1 L450.8,341.0 L451.3,341.9 L451.7,342.9 L452.1,343.9 L452.5,344.9 L452.9,345.9 L453.3,347.0 L453.7,348.0 L454.1,349.0 L454.5,350.0 L454.9,351.0 L455.2,352.0 L455.6,352.9 L456.0,353.8 L456.5,354.8 L457.0,355.8 L457.4,356.7 L457.9,357.6 L458.3,358.5 L458.8,359.4 L459.3,360.4 L459.8,361.5 L460.1,362.3 L460.5,363.2 L460.9,364.1 L461.2,365.0 L461.6,366.0 L462.0,367.0 L462.3,368.0 L462.7,369.0 L463.1,370.1 L463.5,371.1 L463.9,372.2 L464.3,373.3 L464.6,374.3 L465.0,375.3 L465.4,376.4 L465.7,377.4 L466.1,378.4 L466.4,379.3 L466.8,380.3 L467.1,381.4 L467.4,382.4 L467.7,383.5 L468.0,384.5 L468.3,385.5 L468.6,386.5 L468.9,387.5 L469.2,388.5 L469.5,389.4 L469.9,390.4 L470.2,391.3 L470.6,392.1 L471.0,393.0 L471.5,394.0 L472.0,394.9 L472.6,395.9 L473.1,396.8 L473.7,397.6 L474.3,398.5 L475.0,399.3 L475.6,400.0 L476.3,400.8 L477.0,401.5 L477.8,402.2 L478.6,402.9 L479.5,403.5 L480.4,404.1 L481.4,404.7 L482.3,405.2 L483.2,405.8 L484.1,406.3 L485.0,406.8 L485.9,407.4 L486.8,407.9 L487.7,408.4 L488.5,408.8 L489.4,409.3 L490.4,409.8 L491.4,410.3 L492.2,410.7 L493.1,411.1 L494.0,411.5 L494.9,412.0 L495.9,412.4 L496.8,412.8 L497.8,413.3 L498.8,413.7 L499.8,414.1 L500.8,414.6 L501.7,415.0 L502.7,415.4 L503.6,415.8 L504.6,416.2 L505.5,416.6 L506.5,417.0 L507.4,417.4 L508.4,417.7 L509.3,418.1 L510.3,418.5 L511.2,418.9 L512.2,419.2 L513.1,419.6 L514.1,420.0 L515.1,420.4 L516.0,420.8 L517.0,421.2 L517.9,421.5 L518.9,421.9 L519.9,422.3 L520.8,422.7 L521.8,423.1 L522.7,423.4 L523.7,423.8 L524.6,424.2 L525.5,424.5 L526.6,424.9 L527.8,425.3 L529.0,425.8 L530.3,426.2 L531.5,426.7 L532.7,427.1 L533.7,427.4 L534.4,427.7 L534.9,427.8 L535.1,427.9" fill="none" stroke="#1e5a5c" stroke-width="1.4" stroke-linejoin="round"/>
<path d="M402.3,324.4 L402.5,324.4 L403.1,324.5 L403.9,324.7 L405.0,324.8 L406.2,325.0 L407.6,325.2 L409.0,325.4 L410.4,325.5 L411.7,325.6 L412.8,325.7 L413.8,325.7 L414.9,325.7 L415.9,325.6 L416.9,325.5 L417.9,325.4 L419.0,325.3 L420.0,325.2 L421.0,325.1 L422.0,325.0 L423.0,325.0 L424.0,325.0 L425.1,325.0 L426.1,325.0 L427.2,325.0 L428.2,325.0 L429.2,325.1 L430.2,325.1 L431.1,325.2 L432.0,325.3 L433.2,325.4 L434.3,325.6 L435.3,325.8 L436.3,326.0 L437.2,326.3 L438.2,326.8 L439.1,327.4 L440.0,328.2 L440.6,328.8 L441.2,329.5 L441.8,330.3 L442.5,331.2 L443.1,332.1 L443.7,333.0 L444.4,334.0 L444.9,334.7 L445.4,335.5 L446.0,336.3 L446.5,337.1 L447.1,338.0 L447.6,338.8 L448.2,339.7 L448.7,340.6 L449.3,341.5 L449.8,342.4 L450.3,343.3 L450.8,344.2 L451.2,345.1 L451.7,346.0 L452.1,346.8 L452.5,347.7 L452.9,348.6 L453.2,349.5 L453.6,350.4 L454.0,351.4 L454.4,352.3 L454.7,353.3 L455.1,354.3 L455.6,355.3 L456.0,356.4 L456.3,357.2 L456.7,358.1 L457.1,359.0 L457.4,359.9 L457.8,360.8 L458.2,361.8 L458.6,362.8 L459.0,363.8 L459.4,364.8 L459.8,365.8 L460.2,366.9 L460.6,367.9 L461.1,368.9 L461.5,370.0 L461.9,371.0 L462.3,372.0 L462.7,373.0 L463.1,374.0 L463.4,374.9 L463.8,375.9 L464.2,376.8 L464.5,377.6 L464.9,378.5 L465.2,379.3 L465.6,380.4 L466.0,381.4 L466.4,382.5 L466.8,383.5 L467.1,384.4 L467.5,385.4 L467.9,386.3 L468.2,387.2 L468.6,388.1 L469.0,388.9 L469.4,389.8 L469.8,390.7 L470.3,391.7 L470.8,392.7 L471.3,393.7 L471.8,394.6 L472.3,395.6 L472.9,396.5 L473.5,397.4 L474.1,398.3 L474.8,399.1 L475.5,399.8 L476.3,400.5 L477.2,401.1 L478.1,401.6 L479.1,402.1 L480.1,402.6 L481.2,403.0 L482.2,403.5 L483.2,403.9 L484.1,404.4 L485.0,404.9 L486.0,405.5 L486.9,406.2 L487.7,406.9 L488.6,407.5 L489.5,408.2 L490.4,408.9 L491.4,409.5 L492.2,410.0 L493.1,410.4 L494.0,410.9 L494.9,411.3 L495.8,411.8 L496.8,412.2 L497.8,412.7 L498.8,413.1 L499.8,413.5 L500.8,414.0 L501.7,414.4 L502.7,414.8 L503.6,415.2 L504.6,415.6 L505.5,416.0 L506.5,416.4 L507.4,416.8 L508.4,417.2 L509.3,417.6 L510.3,418.0 L511.2,418.4 L512.2,418.7 L513.1,419.1 L514.1,419.5 L515.1,419.9 L516.0,420.3 L517.0,420.7 L517.9,421.0 L518.9,421.4 L519.9,421.8 L520.8,422.2 L521.8,422.6 L522.7,422.9 L523.7,423.3 L524.6,423.7 L525.5,424.0 L526.6,424.4 L527.8,424.8 L529.0,425.3 L530.3,425.7 L531.5,426.2 L532.7,426.6 L533.7,426.9 L534.4,427.2 L534.9,427.3 L535.1,427.4" fill="none" stroke="#f01818" stroke-width="1.4" stroke-linejoin="round"/>
<path d="M402.3,338.5 L402.5,338.5 L403.2,338.5 L404.1,338.6 L405.2,338.6 L406.5,338.6 L407.9,338.6 L409.2,338.6 L410.3,338.5 L411.3,338.4 L412.3,338.2 L413.3,338.0 L414.3,337.7 L415.3,337.5 L416.4,337.2 L417.4,336.9 L418.4,336.6 L419.5,336.3 L420.5,336.0 L421.5,335.7 L422.6,335.3 L423.7,334.9 L424.7,334.5 L425.8,334.1 L426.8,333.7 L427.9,333.4 L428.9,333.1 L429.9,332.8 L430.8,332.7 L432.0,332.6 L433.1,332.7 L434.3,332.8 L435.3,333.0 L436.3,333.2 L437.2,333.4 L438.2,333.7 L439.1,334.1 L440.0,334.6 L440.8,335.0 L441.7,335.4 L442.6,335.9 L443.5,336.5 L444.4,337.2 L445.0,337.8 L445.6,338.4 L446.2,339.2 L446.8,339.9 L447.4,340.8 L448.0,341.6 L448.6,342.5 L449.2,343.5 L449.7,344.4 L450.3,345.3 L450.8,346.2 L451.3,347.1 L451.8,348.0 L452.2,348.8 L452.6,349.7 L453.0,350.6 L453.5,351.6 L453.9,352.5 L454.3,353.5 L454.7,354.5 L455.1,355.5 L455.5,356.6 L456.0,357.7 L456.3,358.5 L456.7,359.3 L457.0,360.2 L457.3,361.1 L457.7,362.0 L458.0,362.9 L458.4,363.9 L458.8,364.9 L459.1,365.9 L459.5,366.9 L459.9,367.9 L460.2,368.9 L460.6,370.0 L461.0,371.0 L461.3,372.0 L461.7,373.0 L462.0,374.1 L462.4,375.1 L462.7,376.1 L463.1,377.0 L463.4,378.0 L463.8,378.9 L464.1,379.9 L464.4,380.7 L464.7,381.6 L465.1,382.7 L465.5,383.8 L465.8,384.8 L466.2,385.9 L466.5,386.9 L466.8,388.0 L467.1,389.0 L467.5,390.0 L467.8,390.9 L468.1,391.9 L468.4,392.8 L468.8,393.7 L469.1,394.6 L469.4,395.5 L469.8,396.4 L470.2,397.4 L470.6,398.4 L471.1,399.4 L471.5,400.4 L471.9,401.3 L472.3,402.2 L472.8,403.1 L473.3,403.9 L473.8,404.7 L474.3,405.5 L475.0,406.4 L475.8,407.4 L476.6,408.2 L477.4,409.0 L478.3,409.8 L479.2,410.5 L480.0,411.1 L481.0,411.7 L482.0,412.1 L482.9,412.5 L484.0,412.9 L485.0,413.4 L485.9,413.8 L486.7,414.3 L487.6,414.8 L488.5,415.3 L489.4,415.8 L490.4,416.3 L491.4,416.8 L492.2,417.2 L493.1,417.6 L494.0,417.9 L494.9,418.3 L495.9,418.7 L496.8,419.1 L497.8,419.5 L498.8,419.9 L499.8,420.3 L500.8,420.6 L501.7,421.0 L502.7,421.4 L503.6,421.8 L504.6,422.2 L505.5,422.5 L506.5,422.9 L507.4,423.3 L508.4,423.7 L509.3,424.1 L510.3,424.4 L511.2,424.8 L512.2,425.2 L513.1,425.5 L514.1,425.9 L515.1,426.2 L516.0,426.6 L517.0,426.9 L517.9,427.3 L518.9,427.6 L519.9,427.9 L520.8,428.2 L521.8,428.6 L522.7,428.9 L523.7,429.2 L524.6,429.6 L525.5,429.9 L526.6,430.3 L527.8,430.8 L529.1,431.3 L530.3,431.9 L531.6,432.4 L532.7,432.9 L533.7,433.3 L534.4,433.6 L534.9,433.8 L535.1,433.9" fill="none" stroke="#141420" stroke-width="1.4" stroke-linejoin="round"/>
<path d="M402.3,322.5 L402.5,322.5 L403.1,322.5 L404.0,322.6 L405.1,322.6 L406.3,322.7 L407.7,322.7 L409.1,322.7 L410.5,322.7 L411.7,322.6 L412.8,322.5 L414.0,322.3 L415.1,322.1 L416.1,321.8 L417.2,321.5 L418.3,321.2 L419.4,320.8 L420.5,320.5 L421.5,320.2 L422.5,319.9 L423.6,319.6 L424.6,319.2 L425.7,318.9 L426.8,318.5 L427.8,318.2 L428.9,318.0 L429.9,317.8 L430.8,317.6 L431.9,317.5 L433.0,317.4 L434.1,317.3 L435.1,317.3 L436.2,317.5 L437.2,317.7 L438.1,318.0 L439.0,318.3 L440.0,318.8 L440.9,319.2 L441.8,319.8 L442.7,320.4 L443.6,321.1 L444.4,321.8 L445.0,322.4 L445.6,323.1 L446.2,323.9 L446.8,324.7 L447.3,325.5 L447.8,326.4 L448.3,327.3 L448.8,328.2 L449.3,329.1 L449.8,330.1 L450.3,331.0 L450.8,332.0 L451.2,332.9 L451.7,333.8 L452.1,334.7 L452.5,335.6 L452.9,336.6 L453.3,337.6 L453.8,338.6 L454.2,339.6 L454.6,340.6 L454.9,341.6 L455.3,342.6 L455.7,343.6 L456.1,344.6 L456.5,345.6 L456.8,346.5 L457.2,347.4 L457.6,348.4 L458.0,349.4 L458.4,350.3 L458.8,351.3 L459.1,352.2 L459.5,353.1 L459.9,354.0 L460.2,354.9 L460.6,355.9 L461.0,356.9 L461.3,357.9 L461.7,359.0 L462.0,359.8 L462.3,360.7 L462.5,361.6 L462.8,362.6 L463.1,363.5 L463.4,364.5 L463.7,365.5 L463.9,366.5 L464.2,367.5 L464.5,368.5 L464.8,369.6 L465.0,370.6 L465.3,371.6 L465.6,372.6 L465.9,373.6 L466.1,374.6 L466.4,375.6 L466.7,376.6 L467.0,377.5 L467.2,378.4 L467.5,379.3 L467.8,380.4 L468.1,381.4 L468.4,382.5 L468.7,383.5 L469.0,384.6 L469.3,385.6 L469.6,386.6 L469.9,387.6 L470.2,388.6 L470.5,389.5 L470.9,390.4 L471.2,391.3 L471.6,392.2 L472.0,393.0 L472.5,394.0 L473.1,395.0 L473.7,395.9 L474.3,396.8 L474.9,397.7 L475.6,398.5 L476.3,399.3 L477.0,400.1 L477.7,400.9 L478.4,401.6 L479.2,402.3 L480.0,403.0 L480.8,403.7 L481.7,404.3 L482.5,404.9 L483.3,405.5 L484.2,406.1 L485.0,406.6 L485.9,407.2 L486.8,407.7 L487.6,408.1 L488.5,408.6 L489.4,409.0 L490.4,409.5 L491.4,410.0 L492.2,410.4 L493.1,410.8 L494.0,411.2 L494.9,411.7 L495.9,412.1 L496.8,412.5 L497.8,413.0 L498.8,413.4 L499.8,413.8 L500.8,414.3 L501.7,414.7 L502.7,415.1 L503.6,415.5 L504.6,415.9 L505.5,416.3 L506.5,416.7 L507.4,417.1 L508.4,417.4 L509.3,417.8 L510.3,418.2 L511.2,418.6 L512.2,418.9 L513.1,419.3 L514.1,419.7 L515.1,420.1 L516.0,420.5 L517.0,420.9 L517.9,421.2 L518.9,421.6 L519.9,422.0 L520.8,422.4 L521.8,422.8 L522.7,423.1 L523.7,423.5 L524.6,423.9 L525.5,424.2 L526.6,424.6 L527.8,425.0 L529.0,425.5 L530.3,425.9 L531.5,426.4 L532.7,426.8 L533.7,427.1 L534.4,427.4 L534.9,427.5 L535.1,427.6" fill="none" stroke="#1818d0" stroke-width="1.4" stroke-linejoin="round"/>
<path d="M402.3,309.0 L402.5,309.0 L403.1,309.2 L404.0,309.3 L405.1,309.5 L406.3,309.7 L407.7,309.9 L409.1,310.1 L410.5,310.2 L411.7,310.3 L412.8,310.3 L414.0,310.2 L415.1,310.0 L416.2,309.7 L417.2,309.3 L418.3,309.0 L419.4,308.7 L420.5,308.4 L421.5,308.2 L422.5,307.9 L423.5,307.6 L424.5,307.4 L425.5,307.1 L426.5,306.9 L427.5,306.8 L428.5,306.7 L429.5,306.7 L430.5,306.8 L431.5,306.9 L432.5,307.1 L433.5,307.4 L434.4,307.7 L435.4,308.1 L436.3,308.5 L437.2,309.0 L438.1,309.5 L438.9,310.1 L439.7,310.7 L440.6,311.4 L441.4,312.2 L442.2,312.9 L442.9,313.7 L443.7,314.6 L444.4,315.4 L445.0,316.1 L445.6,316.9 L446.1,317.7 L446.7,318.5 L447.2,319.3 L447.8,320.1 L448.3,321.0 L448.8,321.9 L449.3,322.8 L449.8,323.7 L450.3,324.6 L450.8,325.6 L451.2,326.5 L451.7,327.3 L452.1,328.2 L452.5,329.2 L452.9,330.1 L453.3,331.0 L453.7,332.0 L454.1,333.0 L454.5,334.0 L454.9,335.0 L455.3,336.0 L455.7,337.0 L456.1,338.0 L456.5,339.0 L456.8,340.0 L457.2,341.0 L457.5,342.0 L457.9,342.9 L458.2,343.9 L458.5,344.9 L458.8,346.0 L459.1,347.0 L459.4,348.0 L459.7,349.1 L460.0,350.1 L460.3,351.1 L460.7,352.1 L461.0,353.2 L461.3,354.2 L461.6,355.2 L461.9,356.2 L462.3,357.1 L462.6,358.1 L463.0,359.0 L463.4,360.0 L463.9,361.0 L464.3,361.9 L464.8,362.9 L465.3,363.8 L465.8,364.8 L466.3,365.7 L466.8,366.6 L467.3,367.5 L467.7,368.4 L468.2,369.2 L468.6,370.1 L469.1,370.9 L469.4,371.7 L469.8,372.5 L470.3,373.7 L470.7,374.8 L471.0,375.8 L471.4,376.9 L471.7,377.9 L472.1,378.9 L472.6,379.9 L473.1,380.9 L473.7,381.8 L474.3,382.8 L474.9,383.7 L475.5,384.7 L476.2,385.6 L476.9,386.5 L477.7,387.3 L478.4,388.0 L479.2,388.7 L480.0,389.4 L480.8,390.1 L481.6,390.7 L482.5,391.3 L483.3,391.9 L484.2,392.5 L485.0,393.0 L485.9,393.6 L486.8,394.0 L487.7,394.5 L488.5,394.9 L489.5,395.4 L490.4,395.9 L491.4,396.4 L492.2,396.8 L493.0,397.3 L493.8,397.8 L494.6,398.4 L495.5,398.9 L496.4,399.5 L497.3,400.0 L498.2,400.6 L499.1,401.1 L500.0,401.7 L500.9,402.2 L501.8,402.7 L502.7,403.2 L503.6,403.7 L504.6,404.2 L505.5,404.6 L506.5,405.1 L507.5,405.5 L508.4,405.9 L509.4,406.3 L510.4,406.8 L511.3,407.2 L512.3,407.5 L513.2,407.9 L514.1,408.3 L515.2,408.7 L516.3,409.1 L517.4,409.4 L518.5,409.8 L519.5,410.1 L520.6,410.5 L521.5,410.9 L522.4,411.3 L523.2,411.7 L524.2,412.5 L525.1,413.3 L525.8,414.2 L526.6,415.1 L527.3,415.9 L527.9,416.8 L528.5,417.6 L529.2,418.4 L530.0,419.1 L531.1,419.8 L532.4,420.4 L533.7,420.9 L534.7,421.3 L535.1,421.4" fill="none" stroke="#625c24" stroke-width="1.4" stroke-linejoin="round"/>
<path d="M402.3,298.7 L402.5,298.7 L403.1,298.5 L404.0,298.4 L405.1,298.1 L406.4,297.8 L407.7,297.5 L409.1,297.2 L410.5,296.9 L411.7,296.5 L412.8,296.2 L413.8,295.8 L414.8,295.4 L415.8,295.0 L416.7,294.6 L417.6,294.1 L418.5,293.7 L419.5,293.3 L420.5,293.0 L421.5,292.7 L422.5,292.4 L423.5,292.1 L424.5,291.9 L425.5,291.7 L426.5,291.5 L427.5,291.4 L428.5,291.3 L429.5,291.3 L430.5,291.4 L431.5,291.5 L432.5,291.7 L433.5,292.0 L434.4,292.3 L435.4,292.7 L436.3,293.1 L437.2,293.6 L438.1,294.1 L439.0,294.7 L439.8,295.4 L440.7,296.1 L441.5,296.9 L442.3,297.7 L443.0,298.6 L443.8,299.5 L444.3,300.2 L444.8,300.9 L445.3,301.7 L445.8,302.5 L446.3,303.4 L446.8,304.2 L447.3,305.1 L447.7,306.0 L448.2,307.0 L448.6,307.9 L449.1,308.9 L449.5,309.8 L449.9,310.8 L450.4,311.8 L450.8,312.8 L451.2,313.7 L451.5,314.5 L451.9,315.4 L452.2,316.3 L452.5,317.2 L452.9,318.2 L453.2,319.1 L453.5,320.0 L453.8,321.0 L454.1,321.9 L454.4,322.9 L454.7,323.9 L455.0,324.9 L455.3,325.9 L455.6,326.9 L455.9,327.9 L456.3,328.9 L456.6,329.9 L456.9,331.0 L457.2,332.0 L457.5,332.9 L457.8,333.8 L458.0,334.7 L458.3,335.7 L458.6,336.6 L458.9,337.6 L459.2,338.6 L459.5,339.6 L459.7,340.6 L460.0,341.6 L460.3,342.6 L460.6,343.6 L460.9,344.6 L461.2,345.7 L461.5,346.7 L461.8,347.7 L462.0,348.7 L462.3,349.7 L462.6,350.7 L462.9,351.7 L463.1,352.6 L463.4,353.6 L463.7,354.5 L463.9,355.5 L464.2,356.4 L464.4,357.3 L464.7,358.2 L464.9,359.0 L465.2,360.1 L465.5,361.2 L465.8,362.3 L466.1,363.3 L466.3,364.4 L466.6,365.4 L466.9,366.4 L467.1,367.4 L467.4,368.4 L467.6,369.4 L467.9,370.3 L468.1,371.3 L468.4,372.2 L468.7,373.1 L468.9,373.9 L469.2,374.8 L469.6,375.9 L469.9,377.0 L470.2,378.1 L470.6,379.1 L470.9,380.1 L471.3,381.1 L471.7,382.1 L472.1,383.0 L472.6,383.9 L473.1,384.8 L473.7,385.7 L474.3,386.6 L474.9,387.5 L475.6,388.3 L476.3,389.1 L477.0,389.9 L477.7,390.7 L478.4,391.5 L479.2,392.2 L480.0,393.0 L480.8,393.7 L481.6,394.4 L482.5,395.1 L483.3,395.7 L484.2,396.3 L485.0,396.9 L485.9,397.4 L486.8,397.8 L487.7,398.2 L488.5,398.6 L489.5,398.9 L490.4,399.3 L491.4,399.8 L492.2,400.2 L493.0,400.7 L493.8,401.2 L494.7,401.7 L495.5,402.2 L496.4,402.8 L497.3,403.3 L498.2,403.9 L499.1,404.4 L500.0,405.0 L500.9,405.6 L501.8,406.1 L502.7,406.6 L503.6,407.1 L504.6,407.7 L505.5,408.2 L506.5,408.7 L507.4,409.2 L508.4,409.8 L509.3,410.3 L510.3,410.8 L511.2,411.3 L512.2,411.8 L513.1,412.3 L514.1,412.8 L515.0,413.3 L516.0,413.8 L517.0,414.3 L517.9,414.7 L518.9,415.2 L519.9,415.7 L520.8,416.2 L521.8,416.6 L522.7,417.1 L523.7,417.6 L524.6,418.0 L525.5,418.5 L526.6,419.1 L527.8,419.7 L529.1,420.4 L530.3,421.0 L531.6,421.7 L532.7,422.3 L533.7,422.8 L534.4,423.2 L534.9,423.5 L535.1,423.6" fill="none" stroke="#ff18ff" stroke-width="1.4" stroke-linejoin="round"/>
<line x1="510.20" y1="305.50" x2="522.90" y2="305.50" stroke="#0a0a0a" stroke-width="1.90"/>
<text x="528.3" y="306.9" font-size="12.6" font-family='"Liberation Sans", sans-serif' fill="#111" stroke="#111" stroke-width="0.12">TiO<tspan dy="2.4" font-size="11.4">2</tspan></text>
<line x1="510.20" y1="323.00" x2="522.90" y2="323.00" stroke="#f01818" stroke-width="1.90"/>
<g transform="translate(524.9,324.5) scale(0.945,1)"><text x="0" y="0" font-size="12.6" font-family='"Liberation Sans", sans-serif' fill="#111" stroke="#111" stroke-width="0.12">Ni<tspan dy="2.4" font-size="11.9">0.01</tspan><tspan dy="-2.4">Ti</tspan><tspan dy="2.4" font-size="11.9">0.99</tspan><tspan dy="-2.4">O</tspan><tspan dy="3.8" font-size="9.4">2</tspan></text></g>
<line x1="510.20" y1="341.10" x2="522.90" y2="341.10" stroke="#1818d0" stroke-width="1.90"/>
<g transform="translate(528.0,342.6) scale(0.945,1)"><text x="0" y="0" font-size="12.6" font-family='"Liberation Sans", sans-serif' fill="#111" stroke="#111" stroke-width="0.12">Ni<tspan dy="2.4" font-size="11.9">0.05</tspan><tspan dy="-2.4">Ti</tspan><tspan dy="2.4" font-size="11.9">0.95</tspan><tspan dy="-2.4">O</tspan><tspan dy="3.8" font-size="9.4">2</tspan></text></g>
<line x1="510.20" y1="358.50" x2="522.90" y2="358.50" stroke="#1e4a50" stroke-width="1.90"/>
<g transform="translate(528.0,360.0) scale(0.945,1)"><text x="0" y="0" font-size="12.6" font-family='"Liberation Sans", sans-serif' fill="#111" stroke="#111" stroke-width="0.12">Ni<tspan dy="2.4" font-size="11.9">0.10</tspan><tspan dy="-2.4">Ti</tspan><tspan dy="2.4" font-size="11.9">0.90</tspan><tspan dy="-2.4">O</tspan><tspan dy="3.8" font-size="9.4">2</tspan></text></g>
<line x1="510.20" y1="377.80" x2="522.90" y2="377.80" stroke="#ff18ff" stroke-width="1.90"/>
<g transform="translate(528.0,379.3) scale(0.945,1)"><text x="0" y="0" font-size="12.6" font-family='"Liberation Sans", sans-serif' fill="#111" stroke="#111" stroke-width="0.12">Ni<tspan dy="2.4" font-size="11.9">0.15</tspan><tspan dy="-2.4">Ti</tspan><tspan dy="2.4" font-size="11.9">0.85</tspan><tspan dy="-2.4">O</tspan><tspan dy="3.8" font-size="9.4">2</tspan></text></g>
<line x1="510.20" y1="396.10" x2="522.90" y2="396.10" stroke="#4a4420" stroke-width="1.90"/>
<g transform="translate(528.0,397.6) scale(0.945,1)"><text x="0" y="0" font-size="12.6" font-family='"Liberation Sans", sans-serif' fill="#111" stroke="#111" stroke-width="0.12">Ni<tspan dy="2.4" font-size="11.9">0.20</tspan><tspan dy="-2.4">Ti</tspan><tspan dy="2.4" font-size="11.9">0.80</tspan><tspan dy="-2.4">O</tspan><tspan dy="3.8" font-size="9.4">2</tspan></text></g>
</svg>
</body></html>
